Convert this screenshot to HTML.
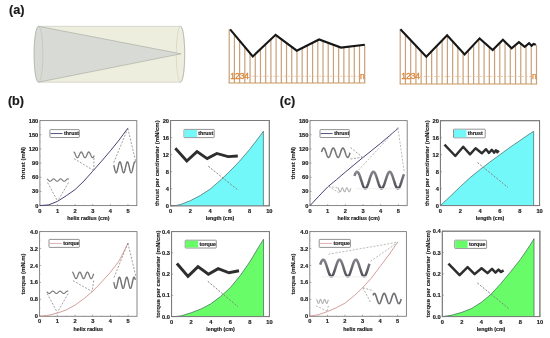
<!DOCTYPE html>
<html><head><meta charset="utf-8"><style>
html,body{margin:0;padding:0;background:#fff;}
svg{display:block;}
</style></head><body>
<svg width="550" height="338" viewBox="0 0 550 338" font-family="Liberation Sans, Arial, sans-serif">
<rect width="550" height="338" fill="#fff"/>
<text x="9.00" y="14.40" font-size="12.7" font-weight="bold" text-anchor="start" fill="#1a1a1a" stroke="#1a1a1a" stroke-width="0.18">(a)</text>
<path d="M38.5,26.3 L180.5,26.3 A4.2,27.950000000000003 0 0 1 180.5,82.2 L38.5,82.2 A4.4,27.950000000000003 0 0 1 38.5,26.3 Z" fill="#eeeedf" stroke="#c2c4b8" stroke-width="0.6"/>
<path d="M38.5,26.3 L181,53.8 L38.5,82.2 A4.4,27.950000000000003 0 0 1 38.5,26.3 Z" fill="#d8dbd5" stroke="#9da197" stroke-width="0.55"/>
<path d="M38.5,26.3 A4.4,27.950000000000003 0 0 1 38.5,82.2" fill="none" stroke="#b5b8b0" stroke-width="0.5"/>
<path d="M180.5,26.3 A4.2,27.950000000000003 0 0 0 180.5,82.2" fill="none" stroke="#c4c6b8" stroke-width="0.5"/>
<path d="M180.5,26.3 A4.2,27.950000000000003 0 0 1 180.5,82.2" fill="none" stroke="#a9ab9f" stroke-width="0.6"/>
<line x1="229.20" y1="29.30" x2="229.20" y2="83.00" stroke="#c8a07a" stroke-width="1.2"/>
<line x1="234.41" y1="34.45" x2="234.41" y2="83.00" stroke="#c8a07a" stroke-width="1.2"/>
<line x1="239.62" y1="40.67" x2="239.62" y2="83.00" stroke="#c8a07a" stroke-width="1.2"/>
<line x1="244.83" y1="46.89" x2="244.83" y2="83.00" stroke="#c8a07a" stroke-width="1.2"/>
<line x1="250.05" y1="53.11" x2="250.05" y2="83.00" stroke="#c8a07a" stroke-width="1.2"/>
<line x1="255.26" y1="54.07" x2="255.26" y2="83.00" stroke="#c8a07a" stroke-width="1.2"/>
<line x1="260.47" y1="49.13" x2="260.47" y2="83.00" stroke="#c8a07a" stroke-width="1.2"/>
<line x1="265.68" y1="44.20" x2="265.68" y2="83.00" stroke="#c8a07a" stroke-width="1.2"/>
<line x1="270.89" y1="39.26" x2="270.89" y2="83.00" stroke="#c8a07a" stroke-width="1.2"/>
<line x1="276.10" y1="35.18" x2="276.10" y2="83.00" stroke="#c8a07a" stroke-width="1.2"/>
<line x1="281.32" y1="39.09" x2="281.32" y2="83.00" stroke="#c8a07a" stroke-width="1.2"/>
<line x1="286.53" y1="43.00" x2="286.53" y2="83.00" stroke="#c8a07a" stroke-width="1.2"/>
<line x1="291.74" y1="46.90" x2="291.74" y2="83.00" stroke="#c8a07a" stroke-width="1.2"/>
<line x1="296.95" y1="50.62" x2="296.95" y2="83.00" stroke="#c8a07a" stroke-width="1.2"/>
<line x1="302.16" y1="48.01" x2="302.16" y2="83.00" stroke="#c8a07a" stroke-width="1.2"/>
<line x1="307.37" y1="45.39" x2="307.37" y2="83.00" stroke="#c8a07a" stroke-width="1.2"/>
<line x1="312.58" y1="42.77" x2="312.58" y2="83.00" stroke="#c8a07a" stroke-width="1.2"/>
<line x1="317.80" y1="40.15" x2="317.80" y2="83.00" stroke="#c8a07a" stroke-width="1.2"/>
<line x1="323.01" y1="40.95" x2="323.01" y2="83.00" stroke="#c8a07a" stroke-width="1.2"/>
<line x1="328.22" y1="42.87" x2="328.22" y2="83.00" stroke="#c8a07a" stroke-width="1.2"/>
<line x1="333.43" y1="44.80" x2="333.43" y2="83.00" stroke="#c8a07a" stroke-width="1.2"/>
<line x1="338.64" y1="46.73" x2="338.64" y2="83.00" stroke="#c8a07a" stroke-width="1.2"/>
<line x1="343.85" y1="47.26" x2="343.85" y2="83.00" stroke="#c8a07a" stroke-width="1.2"/>
<line x1="349.07" y1="46.65" x2="349.07" y2="83.00" stroke="#c8a07a" stroke-width="1.2"/>
<line x1="354.28" y1="46.04" x2="354.28" y2="83.00" stroke="#c8a07a" stroke-width="1.2"/>
<line x1="359.49" y1="45.42" x2="359.49" y2="83.00" stroke="#c8a07a" stroke-width="1.2"/>
<line x1="364.70" y1="44.81" x2="364.70" y2="83.00" stroke="#c8a07a" stroke-width="1.2"/>
<line x1="228.60" y1="83.00" x2="365.30" y2="83.00" stroke="#c9985f" stroke-width="1.2"/>
<line x1="249.20" y1="76.30" x2="359.90" y2="76.30" stroke="#e6b488" stroke-width="0.7" stroke-dasharray="2.2,1.3"/>
<text x="230.20" y="79.20" font-size="8.5" font-weight="normal" text-anchor="start" fill="#dc8434" stroke="#dc8434" stroke-width="0.3">1234</text>
<text x="360.10" y="78.80" font-size="8.3" font-weight="normal" text-anchor="start" fill="#dc8434" stroke="#dc8434" stroke-width="0.25">n</text>
<polyline points="230.10,29.30 252.80,56.40 275.60,34.80 296.80,50.70 319.10,39.50 341.00,47.60 364.80,44.80" fill="none" stroke="#161616" stroke-width="2.1" stroke-linejoin="miter"/>
<line x1="400.20" y1="29.30" x2="400.20" y2="84.00" stroke="#c8a07a" stroke-width="1.2"/>
<line x1="405.44" y1="34.63" x2="405.44" y2="84.00" stroke="#c8a07a" stroke-width="1.2"/>
<line x1="410.68" y1="40.18" x2="410.68" y2="84.00" stroke="#c8a07a" stroke-width="1.2"/>
<line x1="415.93" y1="45.73" x2="415.93" y2="84.00" stroke="#c8a07a" stroke-width="1.2"/>
<line x1="421.17" y1="51.27" x2="421.17" y2="84.00" stroke="#c8a07a" stroke-width="1.2"/>
<line x1="426.41" y1="56.59" x2="426.41" y2="84.00" stroke="#c8a07a" stroke-width="1.2"/>
<line x1="431.65" y1="51.19" x2="431.65" y2="84.00" stroke="#c8a07a" stroke-width="1.2"/>
<line x1="436.90" y1="45.80" x2="436.90" y2="84.00" stroke="#c8a07a" stroke-width="1.2"/>
<line x1="442.14" y1="40.40" x2="442.14" y2="84.00" stroke="#c8a07a" stroke-width="1.2"/>
<line x1="447.38" y1="35.61" x2="447.38" y2="84.00" stroke="#c8a07a" stroke-width="1.2"/>
<line x1="452.62" y1="41.36" x2="452.62" y2="84.00" stroke="#c8a07a" stroke-width="1.2"/>
<line x1="457.87" y1="47.11" x2="457.87" y2="84.00" stroke="#c8a07a" stroke-width="1.2"/>
<line x1="463.11" y1="52.86" x2="463.11" y2="84.00" stroke="#c8a07a" stroke-width="1.2"/>
<line x1="468.35" y1="50.48" x2="468.35" y2="84.00" stroke="#c8a07a" stroke-width="1.2"/>
<line x1="473.59" y1="44.85" x2="473.59" y2="84.00" stroke="#c8a07a" stroke-width="1.2"/>
<line x1="478.83" y1="39.22" x2="478.83" y2="84.00" stroke="#c8a07a" stroke-width="1.2"/>
<line x1="484.08" y1="42.36" x2="484.08" y2="84.00" stroke="#c8a07a" stroke-width="1.2"/>
<line x1="489.32" y1="47.01" x2="489.32" y2="84.00" stroke="#c8a07a" stroke-width="1.2"/>
<line x1="494.56" y1="48.14" x2="494.56" y2="84.00" stroke="#c8a07a" stroke-width="1.2"/>
<line x1="499.80" y1="42.90" x2="499.80" y2="84.00" stroke="#c8a07a" stroke-width="1.2"/>
<line x1="505.05" y1="41.90" x2="505.05" y2="84.00" stroke="#c8a07a" stroke-width="1.2"/>
<line x1="510.29" y1="47.02" x2="510.29" y2="84.00" stroke="#c8a07a" stroke-width="1.2"/>
<line x1="515.53" y1="45.02" x2="515.53" y2="84.00" stroke="#c8a07a" stroke-width="1.2"/>
<line x1="520.77" y1="43.69" x2="520.77" y2="84.00" stroke="#c8a07a" stroke-width="1.2"/>
<line x1="526.02" y1="45.72" x2="526.02" y2="84.00" stroke="#c8a07a" stroke-width="1.2"/>
<line x1="531.26" y1="45.36" x2="531.26" y2="84.00" stroke="#c8a07a" stroke-width="1.2"/>
<line x1="536.50" y1="44.80" x2="536.50" y2="84.00" stroke="#c8a07a" stroke-width="1.2"/>
<line x1="399.60" y1="84.00" x2="537.10" y2="84.00" stroke="#c9985f" stroke-width="1.2"/>
<line x1="420.20" y1="76.50" x2="531.70" y2="76.50" stroke="#e6b488" stroke-width="0.7" stroke-dasharray="2.2,1.3"/>
<text x="401.20" y="79.40" font-size="8.5" font-weight="normal" text-anchor="start" fill="#dc8434" stroke="#dc8434" stroke-width="0.3">1234</text>
<text x="531.90" y="79.00" font-size="8.3" font-weight="normal" text-anchor="start" fill="#dc8434" stroke="#dc8434" stroke-width="0.25">n</text>
<polyline points="400.40,29.30 426.30,56.70 447.10,35.30 464.60,54.50 479.60,38.40 492.70,50.00 502.90,39.80 511.60,48.30 518.90,42.20 524.70,46.80 529.10,43.20 531.60,45.70 533.50,43.90 535.80,44.80" fill="none" stroke="#161616" stroke-width="2.1" stroke-linejoin="miter"/>
<rect x="39.90" y="120.60" width="96.90" height="85.00" fill="none" stroke="#7a7a7a" stroke-width="0.9"/>
<line x1="39.90" y1="205.60" x2="39.90" y2="204.00" stroke="#7a7a7a" stroke-width="0.6"/>
<text x="39.90" y="212.60" font-size="5.7" font-weight="bold" text-anchor="middle" fill="#222" stroke="#222" stroke-width="0.18">0</text>
<line x1="57.52" y1="205.60" x2="57.52" y2="204.00" stroke="#7a7a7a" stroke-width="0.6"/>
<text x="57.52" y="212.60" font-size="5.7" font-weight="bold" text-anchor="middle" fill="#222" stroke="#222" stroke-width="0.18">1</text>
<line x1="75.14" y1="205.60" x2="75.14" y2="204.00" stroke="#7a7a7a" stroke-width="0.6"/>
<text x="75.14" y="212.60" font-size="5.7" font-weight="bold" text-anchor="middle" fill="#222" stroke="#222" stroke-width="0.18">2</text>
<line x1="92.75" y1="205.60" x2="92.75" y2="204.00" stroke="#7a7a7a" stroke-width="0.6"/>
<text x="92.75" y="212.60" font-size="5.7" font-weight="bold" text-anchor="middle" fill="#222" stroke="#222" stroke-width="0.18">3</text>
<line x1="110.37" y1="205.60" x2="110.37" y2="204.00" stroke="#7a7a7a" stroke-width="0.6"/>
<text x="110.37" y="212.60" font-size="5.7" font-weight="bold" text-anchor="middle" fill="#222" stroke="#222" stroke-width="0.18">4</text>
<line x1="127.99" y1="205.60" x2="127.99" y2="204.00" stroke="#7a7a7a" stroke-width="0.6"/>
<text x="127.99" y="212.60" font-size="5.7" font-weight="bold" text-anchor="middle" fill="#222" stroke="#222" stroke-width="0.18">5</text>
<line x1="48.71" y1="205.60" x2="48.71" y2="204.70" stroke="#999" stroke-width="0.5"/>
<line x1="66.33" y1="205.60" x2="66.33" y2="204.70" stroke="#999" stroke-width="0.5"/>
<line x1="83.95" y1="205.60" x2="83.95" y2="204.70" stroke="#999" stroke-width="0.5"/>
<line x1="101.56" y1="205.60" x2="101.56" y2="204.70" stroke="#999" stroke-width="0.5"/>
<line x1="119.18" y1="205.60" x2="119.18" y2="204.70" stroke="#999" stroke-width="0.5"/>
<line x1="39.90" y1="205.60" x2="41.50" y2="205.60" stroke="#7a7a7a" stroke-width="0.6"/>
<text x="38.30" y="207.65" font-size="5.7" font-weight="bold" text-anchor="end" fill="#222" stroke="#222" stroke-width="0.18">0</text>
<line x1="39.90" y1="191.43" x2="41.50" y2="191.43" stroke="#7a7a7a" stroke-width="0.6"/>
<text x="38.30" y="193.48" font-size="5.7" font-weight="bold" text-anchor="end" fill="#222" stroke="#222" stroke-width="0.18">30</text>
<line x1="39.90" y1="177.27" x2="41.50" y2="177.27" stroke="#7a7a7a" stroke-width="0.6"/>
<text x="38.30" y="179.32" font-size="5.7" font-weight="bold" text-anchor="end" fill="#222" stroke="#222" stroke-width="0.18">60</text>
<line x1="39.90" y1="163.10" x2="41.50" y2="163.10" stroke="#7a7a7a" stroke-width="0.6"/>
<text x="38.30" y="165.15" font-size="5.7" font-weight="bold" text-anchor="end" fill="#222" stroke="#222" stroke-width="0.18">90</text>
<line x1="39.90" y1="148.93" x2="41.50" y2="148.93" stroke="#7a7a7a" stroke-width="0.6"/>
<text x="38.30" y="150.98" font-size="5.7" font-weight="bold" text-anchor="end" fill="#222" stroke="#222" stroke-width="0.18">120</text>
<line x1="39.90" y1="134.77" x2="41.50" y2="134.77" stroke="#7a7a7a" stroke-width="0.6"/>
<text x="38.30" y="136.82" font-size="5.7" font-weight="bold" text-anchor="end" fill="#222" stroke="#222" stroke-width="0.18">150</text>
<line x1="39.90" y1="120.60" x2="41.50" y2="120.60" stroke="#7a7a7a" stroke-width="0.6"/>
<text x="38.30" y="122.65" font-size="5.7" font-weight="bold" text-anchor="end" fill="#222" stroke="#222" stroke-width="0.18">180</text>
<line x1="39.90" y1="198.52" x2="40.80" y2="198.52" stroke="#999" stroke-width="0.5"/>
<line x1="39.90" y1="184.35" x2="40.80" y2="184.35" stroke="#999" stroke-width="0.5"/>
<line x1="39.90" y1="170.18" x2="40.80" y2="170.18" stroke="#999" stroke-width="0.5"/>
<line x1="39.90" y1="156.02" x2="40.80" y2="156.02" stroke="#999" stroke-width="0.5"/>
<line x1="39.90" y1="141.85" x2="40.80" y2="141.85" stroke="#999" stroke-width="0.5"/>
<line x1="39.90" y1="127.68" x2="40.80" y2="127.68" stroke="#999" stroke-width="0.5"/>
<text x="88.35" y="220.20" font-size="5.3" font-weight="bold" text-anchor="middle" fill="#222" stroke="#222" stroke-width="0.18">helix radius (cm)</text>
<text x="0" y="0" font-size="6.0" font-weight="bold" text-anchor="middle" fill="#222" stroke="#222" stroke-width="0.12" transform="translate(25.20,163.10) rotate(-90)">thrust (mN)</text>
<polyline points="39.90,205.60 48.71,204.89 57.52,201.35 66.33,195.68 75.14,189.54 83.95,181.04 92.75,171.13 101.56,161.21 110.37,150.82 119.18,139.96 127.99,127.92" fill="none" stroke="#444478" stroke-width="1.0"/>
<rect x="49.9" y="129.6" width="29.4" height="7.900000000000006" fill="#fff" stroke="#777" stroke-width="0.8" rx="0.6"/>
<line x1="50.60" y1="133.55" x2="62.50" y2="133.55" stroke="#30306a" stroke-width="0.85"/>
<svg x="49.9" y="129.6" width="29.0" height="7.900000000000006" overflow="hidden"><text x="14.20" y="5.85" font-size="5.3" font-weight="bold" text-anchor="start" fill="#222" stroke="#222" stroke-width="0.18">thrust</text></svg>
<polyline points="46.90,178.95 47.01,178.99 47.12,179.04 47.23,179.10 47.34,179.17 47.45,179.25 47.56,179.34 47.67,179.43 47.78,179.53 47.89,179.64 47.99,179.75 48.10,179.86 48.21,179.98 48.32,180.09 48.43,180.21 48.54,180.33 48.65,180.44 48.76,180.55 48.87,180.66 48.98,180.76 49.09,180.85 49.20,180.94 49.31,181.02 49.42,181.09 49.53,181.15 49.64,181.20 49.75,181.24 49.86,181.27 49.97,181.29 50.08,181.30 50.18,181.30 50.29,181.28 50.40,181.25 50.51,181.22 50.62,181.17 50.73,181.11 50.84,181.04 50.95,180.97 51.06,180.88 51.17,180.79 51.28,180.69 51.39,180.59 51.50,180.48 51.61,180.37 51.72,180.25 51.83,180.14 51.94,180.02 52.05,179.90 52.16,179.79 52.27,179.68 52.38,179.57 52.48,179.47 52.59,179.37 52.70,179.28 52.81,179.20 52.92,179.13 53.03,179.06 53.14,179.01 53.25,178.97 53.36,178.93 53.47,178.91 53.58,178.90 53.69,178.90 53.80,178.91 53.91,178.94 54.02,178.97 54.13,179.02 54.24,179.07 54.35,179.14 54.46,179.21 54.56,179.29 54.67,179.38 54.78,179.48 54.89,179.58 55.00,179.69 55.11,179.80 55.22,179.92 55.33,180.03 55.44,180.15 55.55,180.27 55.66,180.38 55.77,180.49 55.88,180.60 55.99,180.71 56.10,180.80 56.21,180.89 56.32,180.98 56.43,181.05 56.54,181.12 56.65,181.18 56.75,181.22 56.86,181.26 56.97,181.28 57.08,181.30 57.19,181.30 57.30,181.29 57.41,181.27 57.52,181.24 57.63,181.20 57.74,181.14 57.85,181.08 57.96,181.01 58.07,180.93 58.18,180.84 58.29,180.74 58.40,180.64 58.51,180.54 58.62,180.43 58.73,180.31 58.84,180.20 58.95,180.08 59.05,179.96 59.16,179.85 59.27,179.73 59.38,179.63 59.49,179.52 59.60,179.42 59.71,179.33 59.82,179.24 59.93,179.16 60.04,179.10 60.15,179.04 60.26,178.99 60.37,178.95 60.48,178.92 60.59,178.91 60.70,178.90 60.81,178.91 60.92,178.92 61.03,178.95 61.13,178.99 61.24,179.04 61.35,179.10 61.46,179.17 61.57,179.25 61.68,179.34 61.79,179.43 61.90,179.53 62.01,179.64 62.12,179.75 62.23,179.86 62.34,179.97 62.45,180.09 62.56,180.21 62.67,180.32 62.78,180.44 62.89,180.55 63.00,180.65 63.11,180.75 63.22,180.85 63.32,180.94 63.43,181.02 63.54,181.09 63.65,181.15 63.76,181.20 63.87,181.24 63.98,181.27 64.09,181.29 64.20,181.30 64.31,181.30 64.42,181.28 64.53,181.26 64.64,181.22 64.75,181.17 64.86,181.11 64.97,181.05 65.08,180.97 65.19,180.89 65.30,180.79 65.41,180.70 65.52,180.59 65.62,180.48 65.73,180.37 65.84,180.26 65.95,180.14 66.06,180.02 66.17,179.91 66.28,179.79 66.39,179.68 66.50,179.57 66.61,179.47 66.72,179.38 66.83,179.29 66.94,179.20 67.05,179.13 67.16,179.07 67.27,179.01 67.38,178.97 67.49,178.93 67.60,178.91 67.70,178.90 67.81,178.90 67.92,178.91 68.03,178.94 68.14,178.97 68.25,179.02 68.36,179.07 68.47,179.13 68.58,179.21 68.69,179.29 68.80,179.38" fill="none" stroke="#7a7a7a" stroke-width="1.1"/>
<line x1="47.60" y1="182.60" x2="57.60" y2="201.20" stroke="#888" stroke-width="0.8" stroke-dasharray="2.0,1.5"/>
<line x1="68.50" y1="182.60" x2="57.60" y2="201.20" stroke="#888" stroke-width="0.8" stroke-dasharray="2.0,1.5"/>
<polyline points="73.60,152.00 73.70,152.01 73.81,152.04 73.91,152.09 74.01,152.16 74.11,152.25 74.22,152.36 74.32,152.49 74.42,152.64 74.53,152.80 74.63,152.97 74.73,153.16 74.84,153.36 74.94,153.57 75.04,153.80 75.14,154.02 75.25,154.26 75.35,154.50 75.45,154.74 75.56,154.98 75.66,155.22 75.76,155.46 75.87,155.70 75.97,155.93 76.07,156.15 76.17,156.36 76.28,156.56 76.38,156.75 76.48,156.92 76.59,157.08 76.69,157.22 76.79,157.35 76.90,157.46 77.00,157.54 77.10,157.61 77.20,157.66 77.31,157.69 77.41,157.70 77.51,157.69 77.62,157.65 77.72,157.60 77.82,157.53 77.93,157.44 78.03,157.32 78.13,157.20 78.23,157.05 78.34,156.89 78.44,156.71 78.54,156.52 78.65,156.32 78.75,156.10 78.85,155.88 78.96,155.65 79.06,155.42 79.16,155.18 79.27,154.94 79.37,154.69 79.47,154.45 79.57,154.21 79.68,153.98 79.78,153.75 79.88,153.53 79.99,153.32 80.09,153.12 80.19,152.94 80.30,152.76 80.40,152.61 80.50,152.46 80.60,152.34 80.71,152.23 80.81,152.15 80.91,152.08 81.02,152.03 81.12,152.01 81.22,152.00 81.33,152.01 81.43,152.05 81.53,152.11 81.63,152.18 81.74,152.27 81.84,152.39 81.94,152.52 82.05,152.67 82.15,152.83 82.25,153.01 82.35,153.20 82.46,153.40 82.56,153.62 82.66,153.84 82.77,154.07 82.87,154.31 82.97,154.55 83.08,154.79 83.18,155.03 83.28,155.27 83.38,155.51 83.49,155.74 83.59,155.97 83.69,156.19 83.80,156.40 83.90,156.60 84.00,156.78 84.11,156.95 84.21,157.11 84.31,157.25 84.41,157.37 84.52,157.47 84.62,157.56 84.72,157.62 84.83,157.67 84.93,157.69 85.03,157.70 85.14,157.68 85.24,157.65 85.34,157.59 85.44,157.51 85.55,157.41 85.65,157.30 85.75,157.17 85.86,157.02 85.96,156.85 86.06,156.67 86.17,156.48 86.27,156.28 86.37,156.06 86.47,155.84 86.58,155.61 86.68,155.37 86.78,155.13 86.89,154.89 86.99,154.64 87.09,154.40 87.20,154.17 87.30,153.93 87.40,153.71 87.50,153.49 87.61,153.28 87.71,153.08 87.81,152.90 87.92,152.73 88.02,152.58 88.12,152.44 88.23,152.32 88.33,152.22 88.43,152.13 88.53,152.07 88.64,152.03 88.74,152.00 88.84,152.00 88.95,152.02 89.05,152.06 89.15,152.12 89.26,152.20 89.36,152.30 89.46,152.41 89.56,152.55 89.67,152.70 89.77,152.86 89.87,153.05 89.98,153.24 90.08,153.45 90.18,153.66 90.29,153.89 90.39,154.12 90.49,154.35 90.59,154.60 90.70,154.84 90.80,155.08 90.90,155.32 91.01,155.56 91.11,155.79 91.21,156.02 91.32,156.23 91.42,156.44 91.52,156.63 91.62,156.82 91.73,156.99 91.83,157.14 91.93,157.27 92.04,157.39 92.14,157.49 92.24,157.57 92.35,157.64 92.45,157.68 92.55,157.70 92.66,157.70 92.76,157.68 92.86,157.64 92.96,157.57 93.07,157.49 93.17,157.39 93.27,157.27 93.38,157.14 93.48,156.99 93.58,156.82 93.69,156.64 93.79,156.44 93.89,156.23 93.99,156.02 94.10,155.79 94.20,155.56" fill="none" stroke="#7a7a7a" stroke-width="1.3"/>
<line x1="74.00" y1="158.60" x2="93.80" y2="170.60" stroke="#888" stroke-width="0.8" stroke-dasharray="2.0,1.5"/>
<line x1="94.00" y1="158.00" x2="93.80" y2="170.60" stroke="#888" stroke-width="0.8" stroke-dasharray="2.0,1.5"/>
<polyline points="113.80,165.17 113.91,165.64 114.02,166.11 114.13,166.60 114.23,167.09 114.34,167.59 114.45,168.08 114.56,168.57 114.67,169.04 114.78,169.50 114.88,169.95 114.99,170.37 115.10,170.76 115.21,171.13 115.32,171.47 115.43,171.77 115.54,172.03 115.64,172.26 115.75,172.44 115.86,172.59 115.97,172.68 116.08,172.74 116.19,172.75 116.30,172.71 116.40,172.63 116.51,172.51 116.62,172.34 116.73,172.13 116.84,171.89 116.95,171.60 117.05,171.28 117.16,170.93 117.27,170.54 117.38,170.13 117.49,169.70 117.60,169.24 117.71,168.77 117.81,168.29 117.92,167.80 118.03,167.31 118.14,166.81 118.25,166.32 118.36,165.84 118.47,165.37 118.57,164.92 118.68,164.48 118.79,164.07 118.90,163.69 119.01,163.33 119.12,163.01 119.22,162.72 119.33,162.47 119.44,162.26 119.55,162.10 119.66,161.97 119.77,161.89 119.88,161.85 119.98,161.86 120.09,161.91 120.20,162.01 120.31,162.15 120.42,162.34 120.53,162.56 120.64,162.82 120.74,163.12 120.85,163.46 120.96,163.82 121.07,164.22 121.18,164.64 121.29,165.08 121.39,165.54 121.50,166.02 121.61,166.50 121.72,166.99 121.83,167.49 121.94,167.98 122.05,168.47 122.15,168.95 122.26,169.41 122.37,169.86 122.48,170.28 122.59,170.69 122.70,171.06 122.81,171.40 122.91,171.71 123.02,171.98 123.13,172.22 123.24,172.41 123.35,172.56 123.46,172.67 123.56,172.73 123.67,172.75 123.78,172.72 123.89,172.65 124.00,172.54 124.11,172.38 124.22,172.18 124.32,171.94 124.43,171.66 124.54,171.35 124.65,171.00 124.76,170.62 124.87,170.22 124.98,169.79 125.08,169.34 125.19,168.87 125.30,168.39 125.41,167.90 125.52,167.41 125.63,166.91 125.73,166.42 125.84,165.94 125.95,165.47 126.06,165.01 126.17,164.57 126.28,164.15 126.39,163.76 126.49,163.40 126.60,163.07 126.71,162.78 126.82,162.52 126.93,162.30 127.04,162.13 127.15,161.99 127.25,161.90 127.36,161.86 127.47,161.86 127.58,161.90 127.69,161.99 127.80,162.12 127.91,162.29 128.01,162.51 128.12,162.77 128.23,163.06 128.34,163.39 128.45,163.75 128.56,164.14 128.66,164.55 128.77,164.99 128.88,165.45 128.99,165.92 129.10,166.40 129.21,166.89 129.32,167.39 129.42,167.88 129.53,168.37 129.64,168.85 129.75,169.32 129.86,169.77 129.97,170.20 130.07,170.61 130.18,170.98 130.29,171.33 130.40,171.65 130.51,171.93 130.62,172.17 130.73,172.37 130.83,172.53 130.94,172.65 131.05,172.72 131.16,172.75 131.27,172.73 131.38,172.67 131.49,172.57 131.59,172.42 131.70,172.22 131.81,171.99 131.92,171.72 132.03,171.41 132.14,171.07 132.25,170.70 132.35,170.30 132.46,169.88 132.57,169.43 132.68,168.97 132.79,168.49 132.90,168.00 133.00,167.51 133.11,167.02 133.22,166.52 133.33,166.04 133.44,165.56 133.55,165.10 133.66,164.66 133.76,164.24 133.87,163.84 133.98,163.47 134.09,163.14 134.20,162.83 134.31,162.57 134.41,162.34 134.52,162.16 134.63,162.02 134.74,161.92 134.85,161.86 134.96,161.85 135.07,161.89 135.17,161.97 135.28,162.09 135.39,162.26 135.50,162.46" fill="none" stroke="#727272" stroke-width="1.4"/>
<line x1="127.80" y1="128.40" x2="113.60" y2="163.00" stroke="#888" stroke-width="0.8" stroke-dasharray="2.0,1.5"/>
<line x1="127.80" y1="128.40" x2="135.80" y2="162.00" stroke="#888" stroke-width="0.8" stroke-dasharray="2.0,1.5"/>
<rect x="170.60" y="120.50" width="98.70" height="85.30" fill="none" stroke="#7a7a7a" stroke-width="0.9"/>
<line x1="170.60" y1="205.80" x2="170.60" y2="204.20" stroke="#7a7a7a" stroke-width="0.6"/>
<text x="170.60" y="212.80" font-size="5.7" font-weight="bold" text-anchor="middle" fill="#222" stroke="#222" stroke-width="0.18">0</text>
<line x1="190.34" y1="205.80" x2="190.34" y2="204.20" stroke="#7a7a7a" stroke-width="0.6"/>
<text x="190.34" y="212.80" font-size="5.7" font-weight="bold" text-anchor="middle" fill="#222" stroke="#222" stroke-width="0.18">2</text>
<line x1="210.08" y1="205.80" x2="210.08" y2="204.20" stroke="#7a7a7a" stroke-width="0.6"/>
<text x="210.08" y="212.80" font-size="5.7" font-weight="bold" text-anchor="middle" fill="#222" stroke="#222" stroke-width="0.18">4</text>
<line x1="229.82" y1="205.80" x2="229.82" y2="204.20" stroke="#7a7a7a" stroke-width="0.6"/>
<text x="229.82" y="212.80" font-size="5.7" font-weight="bold" text-anchor="middle" fill="#222" stroke="#222" stroke-width="0.18">6</text>
<line x1="249.56" y1="205.80" x2="249.56" y2="204.20" stroke="#7a7a7a" stroke-width="0.6"/>
<text x="249.56" y="212.80" font-size="5.7" font-weight="bold" text-anchor="middle" fill="#222" stroke="#222" stroke-width="0.18">8</text>
<line x1="269.30" y1="205.80" x2="269.30" y2="204.20" stroke="#7a7a7a" stroke-width="0.6"/>
<text x="269.30" y="212.80" font-size="5.7" font-weight="bold" text-anchor="middle" fill="#222" stroke="#222" stroke-width="0.18">10</text>
<line x1="180.47" y1="205.80" x2="180.47" y2="204.90" stroke="#999" stroke-width="0.5"/>
<line x1="200.21" y1="205.80" x2="200.21" y2="204.90" stroke="#999" stroke-width="0.5"/>
<line x1="219.95" y1="205.80" x2="219.95" y2="204.90" stroke="#999" stroke-width="0.5"/>
<line x1="239.69" y1="205.80" x2="239.69" y2="204.90" stroke="#999" stroke-width="0.5"/>
<line x1="259.43" y1="205.80" x2="259.43" y2="204.90" stroke="#999" stroke-width="0.5"/>
<line x1="170.60" y1="205.80" x2="172.20" y2="205.80" stroke="#7a7a7a" stroke-width="0.6"/>
<text x="169.00" y="207.85" font-size="5.7" font-weight="bold" text-anchor="end" fill="#222" stroke="#222" stroke-width="0.18">0</text>
<line x1="170.60" y1="188.74" x2="172.20" y2="188.74" stroke="#7a7a7a" stroke-width="0.6"/>
<text x="169.00" y="190.79" font-size="5.7" font-weight="bold" text-anchor="end" fill="#222" stroke="#222" stroke-width="0.18">4</text>
<line x1="170.60" y1="171.68" x2="172.20" y2="171.68" stroke="#7a7a7a" stroke-width="0.6"/>
<text x="169.00" y="173.73" font-size="5.7" font-weight="bold" text-anchor="end" fill="#222" stroke="#222" stroke-width="0.18">8</text>
<line x1="170.60" y1="154.62" x2="172.20" y2="154.62" stroke="#7a7a7a" stroke-width="0.6"/>
<text x="169.00" y="156.67" font-size="5.7" font-weight="bold" text-anchor="end" fill="#222" stroke="#222" stroke-width="0.18">12</text>
<line x1="170.60" y1="137.56" x2="172.20" y2="137.56" stroke="#7a7a7a" stroke-width="0.6"/>
<text x="169.00" y="139.61" font-size="5.7" font-weight="bold" text-anchor="end" fill="#222" stroke="#222" stroke-width="0.18">16</text>
<line x1="170.60" y1="120.50" x2="172.20" y2="120.50" stroke="#7a7a7a" stroke-width="0.6"/>
<text x="169.00" y="122.55" font-size="5.7" font-weight="bold" text-anchor="end" fill="#222" stroke="#222" stroke-width="0.18">20</text>
<text x="219.95" y="220.40" font-size="5.3" font-weight="bold" text-anchor="middle" fill="#222" stroke="#222" stroke-width="0.18">length (cm)</text>
<text x="0" y="0" font-size="6.0" font-weight="bold" text-anchor="middle" fill="#222" stroke="#222" stroke-width="0.12" transform="translate(158.70,163.15) rotate(-90)">thrust per centimeter (mN/cm)</text>
<path d="M170.60,205.80 L175.53,205.59 L180.47,204.52 L190.34,200.68 L200.21,195.56 L210.08,189.17 L219.95,180.64 L229.82,171.25 L239.69,161.02 L249.56,149.50 L259.43,136.71 L263.38,131.16 L263.38,205.80 Z" fill="#72f8f8" stroke="none"/>
<polyline points="170.60,205.80 175.53,205.59 180.47,204.52 190.34,200.68 200.21,195.56 210.08,189.17 219.95,180.64 229.82,171.25 239.69,161.02 249.56,149.50 259.43,136.71 263.38,131.16" fill="none" stroke="#2a4a4a" stroke-width="0.6"/>
<line x1="263.38" y1="131.16" x2="263.38" y2="205.80" stroke="#2a4a4a" stroke-width="0.6"/>
<rect x="184.0" y="129.4" width="30.19999999999999" height="8.199999999999989" fill="#fff" stroke="#777" stroke-width="0.8" rx="0.6"/>
<rect x="184.5" y="129.9" width="12.4" height="7.199999999999989" fill="#72f8f8"/>
<text x="198.20" y="135.40" font-size="5.3" font-weight="bold" text-anchor="start" fill="#222" stroke="#222" stroke-width="0.18">thrust</text>
<polyline points="175.30,148.20 186.80,161.00 197.00,151.60 207.20,158.60 216.80,153.50 228.00,156.60 237.80,156.00" fill="none" stroke="#2e2e2e" stroke-width="2.8" stroke-linejoin="miter"/>
<line x1="208.30" y1="166.30" x2="237.70" y2="189.80" stroke="#858585" stroke-width="1.0" stroke-dasharray="2.0,1.5"/>
<rect x="170.60" y="120.50" width="98.70" height="85.30" fill="none" stroke="#7a7a7a" stroke-width="0.9"/>
<rect x="39.60" y="231.60" width="97.40" height="84.70" fill="none" stroke="#7a7a7a" stroke-width="0.9"/>
<line x1="39.60" y1="316.30" x2="39.60" y2="314.70" stroke="#7a7a7a" stroke-width="0.6"/>
<text x="39.60" y="323.30" font-size="5.7" font-weight="bold" text-anchor="middle" fill="#222" stroke="#222" stroke-width="0.18">0</text>
<line x1="57.31" y1="316.30" x2="57.31" y2="314.70" stroke="#7a7a7a" stroke-width="0.6"/>
<text x="57.31" y="323.30" font-size="5.7" font-weight="bold" text-anchor="middle" fill="#222" stroke="#222" stroke-width="0.18">1</text>
<line x1="75.02" y1="316.30" x2="75.02" y2="314.70" stroke="#7a7a7a" stroke-width="0.6"/>
<text x="75.02" y="323.30" font-size="5.7" font-weight="bold" text-anchor="middle" fill="#222" stroke="#222" stroke-width="0.18">2</text>
<line x1="92.73" y1="316.30" x2="92.73" y2="314.70" stroke="#7a7a7a" stroke-width="0.6"/>
<text x="92.73" y="323.30" font-size="5.7" font-weight="bold" text-anchor="middle" fill="#222" stroke="#222" stroke-width="0.18">3</text>
<line x1="110.44" y1="316.30" x2="110.44" y2="314.70" stroke="#7a7a7a" stroke-width="0.6"/>
<text x="110.44" y="323.30" font-size="5.7" font-weight="bold" text-anchor="middle" fill="#222" stroke="#222" stroke-width="0.18">4</text>
<line x1="128.15" y1="316.30" x2="128.15" y2="314.70" stroke="#7a7a7a" stroke-width="0.6"/>
<text x="128.15" y="323.30" font-size="5.7" font-weight="bold" text-anchor="middle" fill="#222" stroke="#222" stroke-width="0.18">5</text>
<line x1="48.45" y1="316.30" x2="48.45" y2="315.40" stroke="#999" stroke-width="0.5"/>
<line x1="66.16" y1="316.30" x2="66.16" y2="315.40" stroke="#999" stroke-width="0.5"/>
<line x1="83.87" y1="316.30" x2="83.87" y2="315.40" stroke="#999" stroke-width="0.5"/>
<line x1="101.58" y1="316.30" x2="101.58" y2="315.40" stroke="#999" stroke-width="0.5"/>
<line x1="119.29" y1="316.30" x2="119.29" y2="315.40" stroke="#999" stroke-width="0.5"/>
<line x1="39.60" y1="316.30" x2="41.20" y2="316.30" stroke="#7a7a7a" stroke-width="0.6"/>
<text x="38.00" y="318.35" font-size="5.7" font-weight="bold" text-anchor="end" fill="#222" stroke="#222" stroke-width="0.18">0</text>
<line x1="39.60" y1="299.36" x2="41.20" y2="299.36" stroke="#7a7a7a" stroke-width="0.6"/>
<text x="38.00" y="301.41" font-size="5.7" font-weight="bold" text-anchor="end" fill="#222" stroke="#222" stroke-width="0.18">0.8</text>
<line x1="39.60" y1="282.42" x2="41.20" y2="282.42" stroke="#7a7a7a" stroke-width="0.6"/>
<text x="38.00" y="284.47" font-size="5.7" font-weight="bold" text-anchor="end" fill="#222" stroke="#222" stroke-width="0.18">1.6</text>
<line x1="39.60" y1="265.48" x2="41.20" y2="265.48" stroke="#7a7a7a" stroke-width="0.6"/>
<text x="38.00" y="267.53" font-size="5.7" font-weight="bold" text-anchor="end" fill="#222" stroke="#222" stroke-width="0.18">2.4</text>
<line x1="39.60" y1="248.54" x2="41.20" y2="248.54" stroke="#7a7a7a" stroke-width="0.6"/>
<text x="38.00" y="250.59" font-size="5.7" font-weight="bold" text-anchor="end" fill="#222" stroke="#222" stroke-width="0.18">3.2</text>
<line x1="39.60" y1="231.60" x2="41.20" y2="231.60" stroke="#7a7a7a" stroke-width="0.6"/>
<text x="38.00" y="233.65" font-size="5.7" font-weight="bold" text-anchor="end" fill="#222" stroke="#222" stroke-width="0.18">4.0</text>
<line x1="39.60" y1="307.83" x2="40.50" y2="307.83" stroke="#999" stroke-width="0.5"/>
<line x1="39.60" y1="290.89" x2="40.50" y2="290.89" stroke="#999" stroke-width="0.5"/>
<line x1="39.60" y1="273.95" x2="40.50" y2="273.95" stroke="#999" stroke-width="0.5"/>
<line x1="39.60" y1="257.01" x2="40.50" y2="257.01" stroke="#999" stroke-width="0.5"/>
<line x1="39.60" y1="240.07" x2="40.50" y2="240.07" stroke="#999" stroke-width="0.5"/>
<text x="88.30" y="330.90" font-size="5.3" font-weight="bold" text-anchor="middle" fill="#222" stroke="#222" stroke-width="0.18">helix radius</text>
<text x="0" y="0" font-size="6.0" font-weight="bold" text-anchor="middle" fill="#222" stroke="#222" stroke-width="0.12" transform="translate(25.10,273.95) rotate(-90)">torque (mN.m)</text>
<polyline points="39.60,316.30 48.45,315.24 57.31,313.12 66.16,309.95 75.02,305.08 83.87,298.72 92.73,291.21 101.58,282.00 110.44,272.26 119.29,260.61 128.15,243.03" fill="none" stroke="#c98682" stroke-width="0.8"/>
<rect x="49.0" y="239.4" width="30.30000000000001" height="8.0" fill="#fff" stroke="#777" stroke-width="0.8" rx="0.6"/>
<line x1="49.70" y1="243.40" x2="61.60" y2="243.40" stroke="#dca0a0" stroke-width="0.85"/>
<svg x="49.0" y="239.4" width="29.900000000000013" height="8.0" overflow="hidden"><text x="14.20" y="5.90" font-size="5.3" font-weight="bold" text-anchor="start" fill="#222" stroke="#222" stroke-width="0.18">torque</text></svg>
<polyline points="46.70,291.65 46.81,291.75 46.92,291.85 47.02,291.95 47.13,292.06 47.24,292.17 47.35,292.28 47.45,292.39 47.56,292.50 47.67,292.61 47.78,292.72 47.88,292.82 47.99,292.92 48.10,293.01 48.21,293.10 48.31,293.18 48.42,293.25 48.53,293.31 48.64,293.37 48.74,293.41 48.85,293.45 48.96,293.48 49.07,293.49 49.17,293.50 49.28,293.50 49.39,293.48 49.50,293.46 49.60,293.42 49.71,293.38 49.82,293.33 49.93,293.26 50.03,293.19 50.14,293.12 50.25,293.03 50.36,292.94 50.46,292.84 50.57,292.74 50.68,292.64 50.79,292.53 50.89,292.42 51.00,292.31 51.11,292.20 51.22,292.09 51.32,291.98 51.43,291.87 51.54,291.77 51.65,291.67 51.75,291.58 51.86,291.49 51.97,291.42 52.08,291.34 52.18,291.28 52.29,291.23 52.40,291.18 52.51,291.15 52.61,291.12 52.72,291.11 52.83,291.10 52.94,291.11 53.04,291.12 53.15,291.15 53.26,291.18 53.37,291.23 53.47,291.28 53.58,291.34 53.69,291.41 53.80,291.49 53.90,291.58 54.01,291.67 54.12,291.77 54.23,291.87 54.33,291.98 54.44,292.08 54.55,292.19 54.66,292.30 54.76,292.42 54.87,292.53 54.98,292.63 55.09,292.74 55.19,292.84 55.30,292.94 55.41,293.03 55.52,293.11 55.62,293.19 55.73,293.26 55.84,293.32 55.95,293.38 56.05,293.42 56.16,293.46 56.27,293.48 56.38,293.50 56.48,293.50 56.59,293.49 56.70,293.48 56.80,293.45 56.91,293.41 57.02,293.37 57.13,293.31 57.23,293.25 57.34,293.18 57.45,293.10 57.56,293.01 57.67,292.92 57.77,292.82 57.88,292.72 57.99,292.61 58.10,292.51 58.20,292.39 58.31,292.28 58.42,292.17 58.53,292.06 58.63,291.96 58.74,291.85 58.85,291.75 58.95,291.65 59.06,291.56 59.17,291.48 59.28,291.40 59.39,291.33 59.49,291.27 59.60,291.22 59.71,291.17 59.82,291.14 59.92,291.12 60.03,291.10 60.14,291.10 60.25,291.11 60.35,291.12 60.46,291.15 60.57,291.19 60.68,291.24 60.78,291.29 60.89,291.36 61.00,291.43 61.11,291.51 61.21,291.60 61.32,291.69 61.43,291.79 61.54,291.89 61.64,292.00 61.75,292.11 61.86,292.22 61.97,292.33 62.07,292.44 62.18,292.55 62.29,292.66 62.40,292.76 62.50,292.86 62.61,292.96 62.72,293.05 62.83,293.13 62.93,293.21 63.04,293.28 63.15,293.34 63.26,293.39 63.36,293.43 63.47,293.46 63.58,293.49 63.69,293.50 63.79,293.50 63.90,293.49 64.01,293.47 64.12,293.44 64.22,293.41 64.33,293.36 64.44,293.30 64.55,293.24 64.65,293.16 64.76,293.08 64.87,292.99 64.97,292.90 65.08,292.80 65.19,292.70 65.30,292.59 65.41,292.48 65.51,292.37 65.62,292.26 65.73,292.15 65.84,292.04 65.94,291.93 66.05,291.83 66.16,291.73 66.27,291.63 66.37,291.54 66.48,291.46 66.59,291.39 66.70,291.32 66.80,291.26 66.91,291.21 67.02,291.17 67.12,291.13 67.23,291.11 67.34,291.10 67.45,291.10 67.56,291.11 67.66,291.13 67.77,291.16 67.88,291.20 67.98,291.25 68.09,291.30 68.20,291.37" fill="none" stroke="#7a7a7a" stroke-width="1.1"/>
<line x1="47.20" y1="293.60" x2="57.30" y2="312.50" stroke="#888" stroke-width="0.8" stroke-dasharray="2.0,1.5"/>
<line x1="68.20" y1="293.60" x2="57.30" y2="312.50" stroke="#888" stroke-width="0.8" stroke-dasharray="2.0,1.5"/>
<polyline points="72.20,272.10 72.31,272.11 72.42,272.15 72.52,272.21 72.63,272.30 72.74,272.42 72.84,272.55 72.95,272.71 73.06,272.89 73.17,273.09 73.28,273.30 73.38,273.53 73.49,273.78 73.60,274.04 73.70,274.31 73.81,274.59 73.92,274.87 74.03,275.16 74.14,275.45 74.24,275.73 74.35,276.02 74.46,276.30 74.56,276.57 74.67,276.83 74.78,277.08 74.89,277.32 75.00,277.54 75.10,277.75 75.21,277.93 75.32,278.10 75.42,278.24 75.53,278.36 75.64,278.46 75.75,278.53 75.86,278.58 75.96,278.60 76.07,278.59 76.18,278.56 76.28,278.51 76.39,278.43 76.50,278.32 76.61,278.20 76.72,278.05 76.82,277.87 76.93,277.68 77.04,277.47 77.15,277.25 77.25,277.00 77.36,276.75 77.47,276.48 77.58,276.21 77.68,275.93 77.79,275.64 77.90,275.35 78.01,275.06 78.11,274.78 78.22,274.49 78.33,274.22 78.44,273.95 78.54,273.70 78.65,273.46 78.76,273.23 78.87,273.02 78.97,272.83 79.08,272.66 79.19,272.50 79.30,272.38 79.40,272.27 79.51,272.19 79.62,272.14 79.73,272.11 79.83,272.10 79.94,272.12 80.05,272.17 80.16,272.24 80.26,272.34 80.37,272.46 80.48,272.60 80.59,272.77 80.69,272.95 80.80,273.16 80.91,273.38 81.02,273.61 81.12,273.86 81.23,274.13 81.34,274.40 81.45,274.68 81.55,274.96 81.66,275.25 81.77,275.54 81.88,275.83 81.98,276.11 82.09,276.39 82.20,276.66 82.31,276.92 82.41,277.16 82.52,277.40 82.63,277.61 82.73,277.81 82.84,277.99 82.95,278.15 83.06,278.28 83.17,278.40 83.27,278.48 83.38,278.55 83.49,278.59 83.59,278.60 83.70,278.59 83.81,278.55 83.92,278.49 84.03,278.40 84.13,278.29 84.24,278.15 84.35,277.99 84.45,277.81 84.56,277.62 84.67,277.40 84.78,277.17 84.89,276.92 84.99,276.66 85.10,276.39 85.21,276.12 85.31,275.83 85.42,275.54 85.53,275.26 85.64,274.97 85.75,274.68 85.85,274.40 85.96,274.13 86.07,273.87 86.17,273.62 86.28,273.38 86.39,273.16 86.50,272.95 86.61,272.77 86.71,272.60 86.82,272.46 86.93,272.34 87.03,272.24 87.14,272.17 87.25,272.12 87.36,272.10 87.47,272.11 87.57,272.14 87.68,272.19 87.79,272.27 87.90,272.37 88.00,272.50 88.11,272.65 88.22,272.82 88.33,273.02 88.43,273.23 88.54,273.45 88.65,273.69 88.75,273.95 88.86,274.22 88.97,274.49 89.08,274.77 89.19,275.06 89.29,275.35 89.40,275.64 89.51,275.92 89.62,276.20 89.72,276.48 89.83,276.74 89.94,277.00 90.05,277.24 90.15,277.47 90.26,277.68 90.37,277.87 90.47,278.04 90.58,278.19 90.69,278.32 90.80,278.43 90.91,278.51 91.01,278.56 91.12,278.59 91.23,278.60 91.34,278.58 91.44,278.53 91.55,278.46 91.66,278.36 91.77,278.24 91.87,278.10 91.98,277.94 92.09,277.75 92.20,277.55 92.30,277.32 92.41,277.09 92.52,276.84 92.62,276.57 92.73,276.30 92.84,276.02 92.95,275.74 93.06,275.45 93.16,275.16 93.27,274.87 93.38,274.59 93.48,274.31 93.59,274.04 93.70,273.78" fill="none" stroke="#7a7a7a" stroke-width="1.3"/>
<line x1="73.00" y1="280.60" x2="92.20" y2="291.50" stroke="#888" stroke-width="0.8" stroke-dasharray="2.0,1.5"/>
<line x1="93.70" y1="280.60" x2="92.20" y2="291.50" stroke="#888" stroke-width="0.8" stroke-dasharray="2.0,1.5"/>
<polyline points="113.80,282.13 113.91,282.64 114.02,283.15 114.12,283.67 114.23,284.17 114.34,284.66 114.44,285.14 114.55,285.60 114.66,286.03 114.77,286.44 114.88,286.82 114.98,287.16 115.09,287.46 115.20,287.73 115.30,287.95 115.41,288.13 115.52,288.27 115.63,288.36 115.73,288.40 115.84,288.39 115.95,288.34 116.06,288.24 116.16,288.09 116.27,287.90 116.38,287.67 116.49,287.39 116.59,287.08 116.70,286.73 116.81,286.34 116.92,285.93 117.03,285.49 117.13,285.03 117.24,284.54 117.35,284.05 117.45,283.54 117.56,283.03 117.67,282.51 117.78,282.00 117.89,281.49 117.99,281.00 118.10,280.52 118.21,280.06 118.31,279.62 118.42,279.21 118.53,278.83 118.64,278.48 118.75,278.17 118.85,277.90 118.96,277.68 119.07,277.49 119.17,277.35 119.28,277.25 119.39,277.21 119.50,277.21 119.61,277.25 119.71,277.35 119.82,277.49 119.93,277.67 120.03,277.90 120.14,278.17 120.25,278.48 120.36,278.83 120.47,279.21 120.57,279.62 120.68,280.05 120.79,280.51 120.89,280.99 121.00,281.49 121.11,281.99 121.22,282.51 121.33,283.02 121.43,283.53 121.54,284.04 121.65,284.54 121.75,285.02 121.86,285.48 121.97,285.92 122.08,286.34 122.19,286.72 122.29,287.07 122.40,287.39 122.51,287.66 122.62,287.90 122.72,288.09 122.83,288.24 122.94,288.34 123.05,288.39 123.15,288.40 123.26,288.36 123.37,288.27 123.48,288.13 123.58,287.95 123.69,287.73 123.80,287.47 123.91,287.16 124.01,286.82 124.12,286.45 124.23,286.04 124.34,285.61 124.44,285.15 124.55,284.67 124.66,284.18 124.77,283.67 124.87,283.16 124.98,282.65 125.09,282.13 125.20,281.62 125.30,281.13 125.41,280.64 125.52,280.18 125.62,279.73 125.73,279.31 125.84,278.93 125.95,278.57 126.06,278.25 126.16,277.97 126.27,277.73 126.38,277.53 126.48,277.38 126.59,277.27 126.70,277.21 126.81,277.20 126.92,277.24 127.02,277.32 127.13,277.45 127.24,277.62 127.34,277.84 127.45,278.10 127.56,278.40 127.67,278.73 127.78,279.10 127.88,279.51 127.99,279.94 128.10,280.39 128.21,280.87 128.31,281.36 128.42,281.86 128.53,282.37 128.63,282.89 128.74,283.40 128.85,283.91 128.96,284.41 129.06,284.90 129.17,285.37 129.28,285.81 129.39,286.23 129.50,286.63 129.60,286.98 129.71,287.31 129.82,287.60 129.93,287.84 130.03,288.04 130.14,288.20 130.25,288.31 130.36,288.38 130.46,288.40 130.57,288.37 130.68,288.30 130.79,288.17 130.89,288.01 131.00,287.79 131.11,287.54 131.22,287.24 131.32,286.91 131.43,286.55 131.54,286.15 131.65,285.72 131.75,285.27 131.86,284.80 131.97,284.31 132.08,283.81 132.18,283.29 132.29,282.78 132.40,282.27 132.50,281.75 132.61,281.25 132.72,280.77 132.83,280.29 132.94,279.84 133.04,279.42 133.15,279.02 133.26,278.66 133.37,278.33 133.47,278.04 133.58,277.79 133.69,277.58 133.80,277.42 133.90,277.30 134.01,277.22 134.12,277.20 134.23,277.22 134.33,277.29 134.44,277.41 134.55,277.57 134.66,277.78 134.76,278.03 134.87,278.31 134.98,278.64 135.09,279.00 135.19,279.40 135.30,279.82" fill="none" stroke="#727272" stroke-width="1.4"/>
<line x1="127.90" y1="243.20" x2="113.80" y2="278.00" stroke="#888" stroke-width="0.8" stroke-dasharray="2.0,1.5"/>
<line x1="127.90" y1="243.20" x2="136.00" y2="277.00" stroke="#888" stroke-width="0.8" stroke-dasharray="2.0,1.5"/>
<rect x="171.60" y="231.60" width="97.80" height="85.00" fill="none" stroke="#7a7a7a" stroke-width="0.9"/>
<line x1="171.60" y1="316.60" x2="171.60" y2="315.00" stroke="#7a7a7a" stroke-width="0.6"/>
<text x="171.60" y="323.60" font-size="5.7" font-weight="bold" text-anchor="middle" fill="#222" stroke="#222" stroke-width="0.18">0</text>
<line x1="191.16" y1="316.60" x2="191.16" y2="315.00" stroke="#7a7a7a" stroke-width="0.6"/>
<text x="191.16" y="323.60" font-size="5.7" font-weight="bold" text-anchor="middle" fill="#222" stroke="#222" stroke-width="0.18">2</text>
<line x1="210.72" y1="316.60" x2="210.72" y2="315.00" stroke="#7a7a7a" stroke-width="0.6"/>
<text x="210.72" y="323.60" font-size="5.7" font-weight="bold" text-anchor="middle" fill="#222" stroke="#222" stroke-width="0.18">4</text>
<line x1="230.28" y1="316.60" x2="230.28" y2="315.00" stroke="#7a7a7a" stroke-width="0.6"/>
<text x="230.28" y="323.60" font-size="5.7" font-weight="bold" text-anchor="middle" fill="#222" stroke="#222" stroke-width="0.18">6</text>
<line x1="249.84" y1="316.60" x2="249.84" y2="315.00" stroke="#7a7a7a" stroke-width="0.6"/>
<text x="249.84" y="323.60" font-size="5.7" font-weight="bold" text-anchor="middle" fill="#222" stroke="#222" stroke-width="0.18">8</text>
<line x1="269.40" y1="316.60" x2="269.40" y2="315.00" stroke="#7a7a7a" stroke-width="0.6"/>
<text x="269.40" y="323.60" font-size="5.7" font-weight="bold" text-anchor="middle" fill="#222" stroke="#222" stroke-width="0.18">10</text>
<line x1="181.38" y1="316.60" x2="181.38" y2="315.70" stroke="#999" stroke-width="0.5"/>
<line x1="200.94" y1="316.60" x2="200.94" y2="315.70" stroke="#999" stroke-width="0.5"/>
<line x1="220.50" y1="316.60" x2="220.50" y2="315.70" stroke="#999" stroke-width="0.5"/>
<line x1="240.06" y1="316.60" x2="240.06" y2="315.70" stroke="#999" stroke-width="0.5"/>
<line x1="259.62" y1="316.60" x2="259.62" y2="315.70" stroke="#999" stroke-width="0.5"/>
<line x1="171.60" y1="316.60" x2="173.20" y2="316.60" stroke="#7a7a7a" stroke-width="0.6"/>
<text x="170.00" y="318.65" font-size="5.7" font-weight="bold" text-anchor="end" fill="#222" stroke="#222" stroke-width="0.18">0.0</text>
<line x1="171.60" y1="295.35" x2="173.20" y2="295.35" stroke="#7a7a7a" stroke-width="0.6"/>
<text x="170.00" y="297.40" font-size="5.7" font-weight="bold" text-anchor="end" fill="#222" stroke="#222" stroke-width="0.18">0.1</text>
<line x1="171.60" y1="274.10" x2="173.20" y2="274.10" stroke="#7a7a7a" stroke-width="0.6"/>
<text x="170.00" y="276.15" font-size="5.7" font-weight="bold" text-anchor="end" fill="#222" stroke="#222" stroke-width="0.18">0.2</text>
<line x1="171.60" y1="252.85" x2="173.20" y2="252.85" stroke="#7a7a7a" stroke-width="0.6"/>
<text x="170.00" y="254.90" font-size="5.7" font-weight="bold" text-anchor="end" fill="#222" stroke="#222" stroke-width="0.18">0.3</text>
<line x1="171.60" y1="231.60" x2="173.20" y2="231.60" stroke="#7a7a7a" stroke-width="0.6"/>
<text x="170.00" y="233.65" font-size="5.7" font-weight="bold" text-anchor="end" fill="#222" stroke="#222" stroke-width="0.18">0.4</text>
<text x="220.50" y="331.20" font-size="5.3" font-weight="bold" text-anchor="middle" fill="#222" stroke="#222" stroke-width="0.18">length (cm)</text>
<text x="0" y="0" font-size="6.0" font-weight="bold" text-anchor="middle" fill="#222" stroke="#222" stroke-width="0.12" transform="translate(159.70,274.10) rotate(-90)">torque per centimeter (mN/cm)</text>
<path d="M171.60,316.60 L176.49,316.39 L181.38,315.75 L191.16,312.78 L200.94,308.95 L206.81,305.98 L210.72,303.85 L220.50,296.62 L230.28,287.70 L240.06,275.80 L249.84,261.77 L259.62,245.41 L263.53,239.25 L263.53,316.60 Z" fill="#68fc68" stroke="none"/>
<polyline points="171.60,316.60 176.49,316.39 181.38,315.75 191.16,312.78 200.94,308.95 206.81,305.98 210.72,303.85 220.50,296.62 230.28,287.70 240.06,275.80 249.84,261.77 259.62,245.41 263.53,239.25" fill="none" stroke="#2a4a4a" stroke-width="0.6"/>
<line x1="263.53" y1="239.25" x2="263.53" y2="316.60" stroke="#2a4a4a" stroke-width="0.6"/>
<rect x="185.2" y="240.2" width="31.100000000000023" height="7.800000000000011" fill="#fff" stroke="#777" stroke-width="0.8" rx="0.6"/>
<rect x="185.7" y="240.7" width="12.4" height="6.800000000000011" fill="#68fc68"/>
<text x="199.40" y="246.00" font-size="5.3" font-weight="bold" text-anchor="start" fill="#222" stroke="#222" stroke-width="0.18">torque</text>
<polyline points="176.90,263.50 188.00,276.40 198.00,266.60 208.40,274.30 218.20,268.70 229.00,272.80 239.00,270.80" fill="none" stroke="#2e2e2e" stroke-width="3.0" stroke-linejoin="miter"/>
<line x1="207.80" y1="281.30" x2="238.00" y2="306.80" stroke="#858585" stroke-width="1.0" stroke-dasharray="2.0,1.5"/>
<rect x="171.60" y="231.60" width="97.80" height="85.00" fill="none" stroke="#7a7a7a" stroke-width="0.9"/>
<text x="279.80" y="105.20" font-size="12.6" font-weight="bold" text-anchor="start" fill="#1a1a1a" stroke="#1a1a1a" stroke-width="0.18">(c)</text>
<text x="7.90" y="105.20" font-size="12.6" font-weight="bold" text-anchor="start" fill="#1a1a1a" stroke="#1a1a1a" stroke-width="0.18">(b)</text>
<rect x="310.00" y="120.60" width="97.20" height="85.00" fill="none" stroke="#7a7a7a" stroke-width="0.9"/>
<line x1="310.00" y1="205.60" x2="310.00" y2="204.00" stroke="#7a7a7a" stroke-width="0.6"/>
<text x="310.00" y="212.60" font-size="5.7" font-weight="bold" text-anchor="middle" fill="#222" stroke="#222" stroke-width="0.18">0</text>
<line x1="327.67" y1="205.60" x2="327.67" y2="204.00" stroke="#7a7a7a" stroke-width="0.6"/>
<text x="327.67" y="212.60" font-size="5.7" font-weight="bold" text-anchor="middle" fill="#222" stroke="#222" stroke-width="0.18">1</text>
<line x1="345.35" y1="205.60" x2="345.35" y2="204.00" stroke="#7a7a7a" stroke-width="0.6"/>
<text x="345.35" y="212.60" font-size="5.7" font-weight="bold" text-anchor="middle" fill="#222" stroke="#222" stroke-width="0.18">2</text>
<line x1="363.02" y1="205.60" x2="363.02" y2="204.00" stroke="#7a7a7a" stroke-width="0.6"/>
<text x="363.02" y="212.60" font-size="5.7" font-weight="bold" text-anchor="middle" fill="#222" stroke="#222" stroke-width="0.18">3</text>
<line x1="380.69" y1="205.60" x2="380.69" y2="204.00" stroke="#7a7a7a" stroke-width="0.6"/>
<text x="380.69" y="212.60" font-size="5.7" font-weight="bold" text-anchor="middle" fill="#222" stroke="#222" stroke-width="0.18">4</text>
<line x1="398.36" y1="205.60" x2="398.36" y2="204.00" stroke="#7a7a7a" stroke-width="0.6"/>
<text x="398.36" y="212.60" font-size="5.7" font-weight="bold" text-anchor="middle" fill="#222" stroke="#222" stroke-width="0.18">5</text>
<line x1="318.84" y1="205.60" x2="318.84" y2="204.70" stroke="#999" stroke-width="0.5"/>
<line x1="336.51" y1="205.60" x2="336.51" y2="204.70" stroke="#999" stroke-width="0.5"/>
<line x1="354.18" y1="205.60" x2="354.18" y2="204.70" stroke="#999" stroke-width="0.5"/>
<line x1="371.85" y1="205.60" x2="371.85" y2="204.70" stroke="#999" stroke-width="0.5"/>
<line x1="389.53" y1="205.60" x2="389.53" y2="204.70" stroke="#999" stroke-width="0.5"/>
<line x1="310.00" y1="205.60" x2="311.60" y2="205.60" stroke="#7a7a7a" stroke-width="0.6"/>
<text x="308.40" y="207.65" font-size="5.7" font-weight="bold" text-anchor="end" fill="#222" stroke="#222" stroke-width="0.18">0</text>
<line x1="310.00" y1="191.43" x2="311.60" y2="191.43" stroke="#7a7a7a" stroke-width="0.6"/>
<text x="308.40" y="193.48" font-size="5.7" font-weight="bold" text-anchor="end" fill="#222" stroke="#222" stroke-width="0.18">30</text>
<line x1="310.00" y1="177.27" x2="311.60" y2="177.27" stroke="#7a7a7a" stroke-width="0.6"/>
<text x="308.40" y="179.32" font-size="5.7" font-weight="bold" text-anchor="end" fill="#222" stroke="#222" stroke-width="0.18">60</text>
<line x1="310.00" y1="163.10" x2="311.60" y2="163.10" stroke="#7a7a7a" stroke-width="0.6"/>
<text x="308.40" y="165.15" font-size="5.7" font-weight="bold" text-anchor="end" fill="#222" stroke="#222" stroke-width="0.18">90</text>
<line x1="310.00" y1="148.93" x2="311.60" y2="148.93" stroke="#7a7a7a" stroke-width="0.6"/>
<text x="308.40" y="150.98" font-size="5.7" font-weight="bold" text-anchor="end" fill="#222" stroke="#222" stroke-width="0.18">120</text>
<line x1="310.00" y1="134.77" x2="311.60" y2="134.77" stroke="#7a7a7a" stroke-width="0.6"/>
<text x="308.40" y="136.82" font-size="5.7" font-weight="bold" text-anchor="end" fill="#222" stroke="#222" stroke-width="0.18">150</text>
<line x1="310.00" y1="120.60" x2="311.60" y2="120.60" stroke="#7a7a7a" stroke-width="0.6"/>
<text x="308.40" y="122.65" font-size="5.7" font-weight="bold" text-anchor="end" fill="#222" stroke="#222" stroke-width="0.18">180</text>
<line x1="310.00" y1="198.52" x2="310.90" y2="198.52" stroke="#999" stroke-width="0.5"/>
<line x1="310.00" y1="184.35" x2="310.90" y2="184.35" stroke="#999" stroke-width="0.5"/>
<line x1="310.00" y1="170.18" x2="310.90" y2="170.18" stroke="#999" stroke-width="0.5"/>
<line x1="310.00" y1="156.02" x2="310.90" y2="156.02" stroke="#999" stroke-width="0.5"/>
<line x1="310.00" y1="141.85" x2="310.90" y2="141.85" stroke="#999" stroke-width="0.5"/>
<line x1="310.00" y1="127.68" x2="310.90" y2="127.68" stroke="#999" stroke-width="0.5"/>
<text x="358.60" y="220.20" font-size="5.3" font-weight="bold" text-anchor="middle" fill="#222" stroke="#222" stroke-width="0.18">helix radius (cm)</text>
<text x="0" y="0" font-size="6.0" font-weight="bold" text-anchor="middle" fill="#222" stroke="#222" stroke-width="0.12" transform="translate(295.30,163.10) rotate(-90)">thrust (mN)</text>
<polyline points="310.00,205.60 318.84,196.16 327.67,186.95 336.51,179.63 345.35,172.07 354.18,164.75 363.02,157.43 371.85,150.35 380.69,143.27 389.53,135.71 398.36,128.16" fill="none" stroke="#444478" stroke-width="1.0"/>
<rect x="320.0" y="129.6" width="29.399999999999977" height="7.900000000000006" fill="#fff" stroke="#777" stroke-width="0.8" rx="0.6"/>
<line x1="320.70" y1="133.55" x2="332.60" y2="133.55" stroke="#30306a" stroke-width="0.85"/>
<svg x="320.0" y="129.6" width="28.99999999999998" height="7.900000000000006" overflow="hidden"><text x="14.20" y="5.85" font-size="5.3" font-weight="bold" text-anchor="start" fill="#222" stroke="#222" stroke-width="0.18">thrust</text></svg>
<polyline points="321.50,152.09 321.64,151.65 321.79,151.23 321.93,150.82 322.07,150.42 322.21,150.05 322.36,149.70 322.50,149.37 322.64,149.08 322.79,148.81 322.93,148.58 323.07,148.39 323.22,148.23 323.36,148.12 323.50,148.04 323.64,148.00 323.79,148.01 323.93,148.05 324.07,148.14 324.22,148.27 324.36,148.43 324.50,148.64 324.65,148.87 324.79,149.15 324.93,149.45 325.07,149.78 325.22,150.14 325.36,150.52 325.50,150.92 325.65,151.33 325.79,151.76 325.93,152.19 326.08,152.63 326.22,153.07 326.36,153.51 326.50,153.93 326.65,154.35 326.79,154.76 326.93,155.14 327.08,155.51 327.22,155.85 327.36,156.16 327.51,156.44 327.65,156.69 327.79,156.91 327.94,157.08 328.08,157.22 328.22,157.32 328.36,157.38 328.51,157.40 328.65,157.38 328.79,157.31 328.94,157.21 329.08,157.06 329.22,156.88 329.37,156.66 329.51,156.41 329.65,156.12 329.79,155.81 329.94,155.46 330.08,155.10 330.22,154.71 330.37,154.30 330.51,153.88 330.65,153.45 330.80,153.02 330.94,152.58 331.08,152.14 331.22,151.70 331.37,151.28 331.51,150.87 331.65,150.47 331.80,150.09 331.94,149.74 332.08,149.41 332.23,149.11 332.37,148.84 332.51,148.61 332.65,148.41 332.80,148.25 332.94,148.13 333.08,148.05 333.23,148.01 333.37,148.01 333.51,148.05 333.66,148.13 333.80,148.25 333.94,148.41 334.08,148.61 334.23,148.84 334.37,149.11 334.51,149.41 334.66,149.74 334.80,150.10 334.94,150.47 335.09,150.87 335.23,151.28 335.37,151.71 335.51,152.14 335.66,152.58 335.80,153.02 335.94,153.46 336.09,153.89 336.23,154.31 336.37,154.71 336.51,155.10 336.66,155.47 336.80,155.81 336.94,156.13 337.09,156.41 337.23,156.67 337.37,156.88 337.52,157.07 337.66,157.21 337.80,157.31 337.94,157.38 338.09,157.40 338.23,157.38 338.37,157.32 338.52,157.22 338.66,157.08 338.80,156.90 338.95,156.69 339.09,156.44 339.23,156.16 339.38,155.85 339.52,155.51 339.66,155.14 339.80,154.75 339.95,154.35 340.09,153.93 340.23,153.50 340.38,153.07 340.52,152.63 340.66,152.19 340.81,151.75 340.95,151.33 341.09,150.91 341.23,150.51 341.38,150.13 341.52,149.78 341.66,149.45 341.81,149.14 341.95,148.87 342.09,148.63 342.24,148.43 342.38,148.27 342.52,148.14 342.66,148.05 342.81,148.01 342.95,148.00 343.09,148.04 343.24,148.12 343.38,148.23 343.52,148.39 343.67,148.59 343.81,148.82 343.95,149.08 344.09,149.38 344.24,149.70 344.38,150.05 344.52,150.43 344.67,150.82 344.81,151.23 344.95,151.66 345.10,152.09 345.24,152.53 345.38,152.97 345.52,153.41 345.67,153.84 345.81,154.26 345.95,154.67 346.10,155.06 346.24,155.43 346.38,155.77 346.53,156.09 346.67,156.38 346.81,156.64 346.95,156.86 347.10,157.05 347.24,157.19 347.38,157.30 347.53,157.37 347.67,157.40 347.81,157.39 347.96,157.33 348.10,157.24 348.24,157.10 348.38,156.93 348.53,156.72 348.67,156.47 348.81,156.19 348.96,155.88 349.10,155.55 349.24,155.18 349.39,154.80 349.53,154.40 349.67,153.98 349.81,153.55 349.96,153.12 350.10,152.68" fill="none" stroke="#777" stroke-width="1.6"/>
<line x1="350.50" y1="147.50" x2="362.40" y2="157.20" stroke="#888" stroke-width="0.8" stroke-dasharray="2.0,1.5"/>
<line x1="350.50" y1="159.00" x2="362.40" y2="157.20" stroke="#888" stroke-width="0.8" stroke-dasharray="2.0,1.5"/>
<polyline points="337.80,187.80 337.87,187.81 337.93,187.83 338.00,187.87 338.06,187.93 338.13,188.00 338.20,188.09 338.26,188.19 338.33,188.31 338.39,188.44 338.46,188.57 338.53,188.72 338.59,188.88 338.66,189.05 338.72,189.22 338.79,189.39 338.86,189.57 338.92,189.76 338.99,189.94 339.05,190.12 339.12,190.30 339.19,190.47 339.25,190.64 339.32,190.80 339.38,190.96 339.45,191.10 339.52,191.23 339.58,191.35 339.65,191.46 339.71,191.56 339.78,191.64 339.85,191.70 339.91,191.75 339.98,191.78 340.04,191.80 340.11,191.80 340.18,191.78 340.24,191.75 340.31,191.70 340.37,191.63 340.44,191.55 340.51,191.46 340.57,191.35 340.64,191.23 340.70,191.09 340.77,190.95 340.84,190.80 340.90,190.63 340.97,190.47 341.03,190.29 341.10,190.11 341.17,189.93 341.23,189.75 341.30,189.57 341.36,189.39 341.43,189.21 341.50,189.04 341.56,188.88 341.63,188.72 341.69,188.57 341.76,188.43 341.83,188.30 341.89,188.19 341.96,188.09 342.02,188.00 342.09,187.93 342.16,187.87 342.22,187.83 342.29,187.81 342.35,187.80 342.42,187.81 342.49,187.83 342.55,187.88 342.62,187.93 342.68,188.01 342.75,188.09 342.82,188.20 342.88,188.31 342.95,188.44 343.01,188.58 343.08,188.73 343.15,188.89 343.21,189.05 343.28,189.22 343.34,189.40 343.41,189.58 343.48,189.76 343.54,189.94 343.61,190.13 343.67,190.30 343.74,190.48 343.81,190.65 343.87,190.81 343.94,190.96 344.00,191.10 344.07,191.24 344.14,191.36 344.20,191.46 344.27,191.56 344.33,191.64 344.40,191.70 344.47,191.75 344.53,191.78 344.60,191.80 344.66,191.80 344.73,191.78 344.80,191.75 344.86,191.70 344.93,191.63 344.99,191.55 345.06,191.45 345.13,191.35 345.19,191.22 345.26,191.09 345.32,190.94 345.39,190.79 345.46,190.63 345.52,190.46 345.59,190.29 345.65,190.11 345.72,189.93 345.79,189.74 345.85,189.56 345.92,189.38 345.98,189.21 346.05,189.03 346.12,188.87 346.18,188.71 346.25,188.56 346.31,188.43 346.38,188.30 346.45,188.19 346.51,188.08 346.58,188.00 346.64,187.93 346.71,187.87 346.78,187.83 346.84,187.81 346.91,187.80 346.97,187.81 347.04,187.84 347.11,187.88 347.17,187.94 347.24,188.01 347.30,188.10 347.37,188.20 347.44,188.32 347.50,188.44 347.57,188.58 347.63,188.73 347.70,188.89 347.77,189.06 347.83,189.23 347.90,189.41 347.96,189.59 348.03,189.77 348.10,189.95 348.16,190.13 348.23,190.31 348.29,190.48 348.36,190.65 348.43,190.81 348.49,190.97 348.56,191.11 348.62,191.24 348.69,191.36 348.76,191.47 348.82,191.56 348.89,191.64 348.95,191.70 349.02,191.75 349.09,191.78 349.15,191.80 349.22,191.80 349.28,191.78 349.35,191.74 349.42,191.69 349.48,191.63 349.55,191.55 349.61,191.45 349.68,191.34 349.75,191.22 349.81,191.08 349.88,190.94 349.94,190.79 350.01,190.62 350.08,190.45 350.14,190.28 350.21,190.10 350.27,189.92 350.34,189.74 350.41,189.56 350.47,189.38 350.54,189.20 350.60,189.03 350.67,188.86 350.74,188.71 350.80,188.56 350.87,188.42 350.93,188.30 351.00,188.18" fill="none" stroke="#b0b0b0" stroke-width="1.1"/>
<line x1="328.60" y1="186.40" x2="338.40" y2="188.00" stroke="#aaa" stroke-width="0.8" stroke-dasharray="2.0,1.5"/>
<line x1="328.60" y1="186.40" x2="339.50" y2="193.00" stroke="#aaa" stroke-width="0.8" stroke-dasharray="2.0,1.5"/>
<defs><linearGradient id="g1" gradientUnits="userSpaceOnUse" x1="0" y1="171" x2="0" y2="189"><stop offset="0" stop-color="#85858c"/><stop offset="1" stop-color="#4c4c54"/></linearGradient><linearGradient id="g2" gradientUnits="userSpaceOnUse" x1="0" y1="259" x2="0" y2="277"><stop offset="0" stop-color="#85858c"/><stop offset="1" stop-color="#4c4c54"/></linearGradient></defs>
<polyline points="354.40,175.90 354.65,175.23 354.90,174.62 355.14,174.05 355.39,173.53 355.64,173.08 355.89,172.69 356.14,172.37 356.38,172.11 356.63,171.93 356.88,171.83 357.13,171.80 357.38,171.85 357.62,171.97 357.87,172.16 358.12,172.43 358.37,172.77 358.62,173.17 358.86,173.64 359.11,174.17 359.36,174.75 359.61,175.38 359.86,176.05 360.10,176.76 360.35,177.50 360.60,178.26 360.85,179.04 361.10,179.83 361.34,180.63 361.59,181.41 361.84,182.19 362.09,182.94 362.34,183.68 362.58,184.37 362.83,185.03 363.08,185.65 363.33,186.21 363.58,186.72 363.82,187.17 364.07,187.55 364.32,187.86 364.57,188.11 364.82,188.28 365.06,188.38 365.31,188.40 365.56,188.34 365.81,188.21 366.06,188.01 366.30,187.74 366.55,187.39 366.80,186.98 367.05,186.51 367.30,185.97 367.54,185.39 367.79,184.75 368.04,184.08 368.29,183.36 368.54,182.62 368.78,181.86 369.03,181.07 369.28,180.28 369.53,179.49 369.78,178.70 370.02,177.93 370.27,177.18 370.52,176.45 370.77,175.76 371.02,175.10 371.26,174.49 371.51,173.93 371.76,173.43 372.01,172.99 372.26,172.62 372.50,172.31 372.75,172.07 373.00,171.91 373.25,171.82 373.50,171.80 373.74,171.87 373.99,172.00 374.24,172.21 374.49,172.50 374.74,172.85 374.98,173.27 375.23,173.75 375.48,174.29 375.73,174.88 375.98,175.52 376.22,176.20 376.47,176.91 376.72,177.66 376.97,178.43 377.22,179.21 377.46,180.00 377.71,180.79 377.96,181.58 378.21,182.35 378.46,183.10 378.70,183.83 378.95,184.52 379.20,185.17 379.45,185.77 379.70,186.32 379.94,186.82 380.19,187.25 380.44,187.62 380.69,187.92 380.94,188.15 381.18,188.31 381.43,188.39 381.68,188.39 381.93,188.32 382.18,188.18 382.42,187.96 382.67,187.67 382.92,187.31 383.17,186.89 383.42,186.40 383.66,185.85 383.91,185.26 384.16,184.61 384.41,183.93 384.66,183.21 384.90,182.46 385.15,181.69 385.40,180.91 385.65,180.12 385.90,179.33 386.14,178.54 386.39,177.77 386.64,177.02 386.89,176.30 387.14,175.61 387.38,174.97 387.63,174.37 387.88,173.82 388.13,173.33 388.38,172.91 388.62,172.54 388.87,172.25 389.12,172.03 389.37,171.88 389.62,171.81 389.86,171.81 390.11,171.89 390.36,172.04 390.61,172.27 390.86,172.57 391.10,172.93 391.35,173.36 391.60,173.86 391.85,174.41 392.10,175.01 392.34,175.66 392.59,176.34 392.84,177.07 393.09,177.82 393.34,178.59 393.58,179.37 393.83,180.17 394.08,180.96 394.33,181.74 394.58,182.51 394.82,183.26 395.07,183.97 395.32,184.66 395.57,185.30 395.82,185.89 396.06,186.43 396.31,186.91 396.56,187.33 396.81,187.69 397.06,187.98 397.30,188.19 397.55,188.33 397.80,188.40 398.05,188.38 398.30,188.30 398.54,188.14 398.79,187.90 399.04,187.60 399.29,187.23 399.54,186.79 399.78,186.29 400.03,185.73 400.28,185.13 400.53,184.47 400.78,183.78 401.02,183.05 401.27,182.30 401.52,181.53 401.77,180.74 402.02,179.95 402.26,179.16 402.51,178.38 402.76,177.61 403.01,176.87 403.26,176.15 403.50,175.47 403.75,174.84 404.00,174.25" fill="none" stroke="url(#g1)" stroke-width="2.5"/>
<line x1="397.90" y1="127.60" x2="355.00" y2="174.00" stroke="#aaa" stroke-width="0.8" stroke-dasharray="2.0,1.5"/>
<line x1="397.90" y1="127.60" x2="404.20" y2="172.00" stroke="#aaa" stroke-width="0.8" stroke-dasharray="2.0,1.5"/>
<line x1="356.00" y1="188.80" x2="402.00" y2="188.80" stroke="#f0f0f0" stroke-width="1"/>
<rect x="440.40" y="120.70" width="99.20" height="84.90" fill="none" stroke="#7a7a7a" stroke-width="0.9"/>
<line x1="440.40" y1="205.60" x2="440.40" y2="204.00" stroke="#7a7a7a" stroke-width="0.6"/>
<text x="440.40" y="212.60" font-size="5.7" font-weight="bold" text-anchor="middle" fill="#222" stroke="#222" stroke-width="0.18">0</text>
<line x1="460.24" y1="205.60" x2="460.24" y2="204.00" stroke="#7a7a7a" stroke-width="0.6"/>
<text x="460.24" y="212.60" font-size="5.7" font-weight="bold" text-anchor="middle" fill="#222" stroke="#222" stroke-width="0.18">2</text>
<line x1="480.08" y1="205.60" x2="480.08" y2="204.00" stroke="#7a7a7a" stroke-width="0.6"/>
<text x="480.08" y="212.60" font-size="5.7" font-weight="bold" text-anchor="middle" fill="#222" stroke="#222" stroke-width="0.18">4</text>
<line x1="499.92" y1="205.60" x2="499.92" y2="204.00" stroke="#7a7a7a" stroke-width="0.6"/>
<text x="499.92" y="212.60" font-size="5.7" font-weight="bold" text-anchor="middle" fill="#222" stroke="#222" stroke-width="0.18">6</text>
<line x1="519.76" y1="205.60" x2="519.76" y2="204.00" stroke="#7a7a7a" stroke-width="0.6"/>
<text x="519.76" y="212.60" font-size="5.7" font-weight="bold" text-anchor="middle" fill="#222" stroke="#222" stroke-width="0.18">8</text>
<line x1="539.60" y1="205.60" x2="539.60" y2="204.00" stroke="#7a7a7a" stroke-width="0.6"/>
<text x="539.60" y="212.60" font-size="5.7" font-weight="bold" text-anchor="middle" fill="#222" stroke="#222" stroke-width="0.18">10</text>
<line x1="450.32" y1="205.60" x2="450.32" y2="204.70" stroke="#999" stroke-width="0.5"/>
<line x1="470.16" y1="205.60" x2="470.16" y2="204.70" stroke="#999" stroke-width="0.5"/>
<line x1="490.00" y1="205.60" x2="490.00" y2="204.70" stroke="#999" stroke-width="0.5"/>
<line x1="509.84" y1="205.60" x2="509.84" y2="204.70" stroke="#999" stroke-width="0.5"/>
<line x1="529.68" y1="205.60" x2="529.68" y2="204.70" stroke="#999" stroke-width="0.5"/>
<line x1="440.40" y1="205.60" x2="442.00" y2="205.60" stroke="#7a7a7a" stroke-width="0.6"/>
<text x="438.80" y="207.65" font-size="5.7" font-weight="bold" text-anchor="end" fill="#222" stroke="#222" stroke-width="0.18">0</text>
<line x1="440.40" y1="188.62" x2="442.00" y2="188.62" stroke="#7a7a7a" stroke-width="0.6"/>
<text x="438.80" y="190.67" font-size="5.7" font-weight="bold" text-anchor="end" fill="#222" stroke="#222" stroke-width="0.18">4</text>
<line x1="440.40" y1="171.64" x2="442.00" y2="171.64" stroke="#7a7a7a" stroke-width="0.6"/>
<text x="438.80" y="173.69" font-size="5.7" font-weight="bold" text-anchor="end" fill="#222" stroke="#222" stroke-width="0.18">8</text>
<line x1="440.40" y1="154.66" x2="442.00" y2="154.66" stroke="#7a7a7a" stroke-width="0.6"/>
<text x="438.80" y="156.71" font-size="5.7" font-weight="bold" text-anchor="end" fill="#222" stroke="#222" stroke-width="0.18">12</text>
<line x1="440.40" y1="137.68" x2="442.00" y2="137.68" stroke="#7a7a7a" stroke-width="0.6"/>
<text x="438.80" y="139.73" font-size="5.7" font-weight="bold" text-anchor="end" fill="#222" stroke="#222" stroke-width="0.18">16</text>
<line x1="440.40" y1="120.70" x2="442.00" y2="120.70" stroke="#7a7a7a" stroke-width="0.6"/>
<text x="438.80" y="122.75" font-size="5.7" font-weight="bold" text-anchor="end" fill="#222" stroke="#222" stroke-width="0.18">20</text>
<text x="490.00" y="220.20" font-size="5.3" font-weight="bold" text-anchor="middle" fill="#222" stroke="#222" stroke-width="0.18">length (cm)</text>
<text x="0" y="0" font-size="6.0" font-weight="bold" text-anchor="middle" fill="#222" stroke="#222" stroke-width="0.12" transform="translate(428.50,163.15) rotate(-90)">thrust per centimeter (mN/cm)</text>
<path d="M440.40,205.60 L450.32,196.26 L460.24,186.71 L470.16,177.58 L480.08,169.52 L490.00,161.88 L499.92,154.66 L509.84,147.44 L519.76,140.65 L529.68,133.86 L533.65,131.31 L533.65,205.60 Z" fill="#72f8f8" stroke="none"/>
<polyline points="440.40,205.60 450.32,196.26 460.24,186.71 470.16,177.58 480.08,169.52 490.00,161.88 499.92,154.66 509.84,147.44 519.76,140.65 529.68,133.86 533.65,131.31" fill="none" stroke="#2a4a4a" stroke-width="0.6"/>
<line x1="533.65" y1="131.31" x2="533.65" y2="205.60" stroke="#2a4a4a" stroke-width="0.6"/>
<rect x="453.5" y="129.2" width="31.69999999999999" height="8.600000000000023" fill="#fff" stroke="#777" stroke-width="0.8" rx="0.6"/>
<rect x="454.0" y="129.7" width="12.4" height="7.600000000000023" fill="#72f8f8"/>
<text x="467.70" y="135.40" font-size="5.3" font-weight="bold" text-anchor="start" fill="#222" stroke="#222" stroke-width="0.18">thrust</text>
<polyline points="444.50,144.60 455.30,156.00 463.20,146.70 470.00,154.40 475.60,148.20 481.80,153.30 486.00,149.20 489.00,152.90 491.80,149.80 494.20,152.70 495.90,150.20 497.40,152.30 498.80,150.60" fill="none" stroke="#2e2e2e" stroke-width="2.4" stroke-linejoin="round"/>
<line x1="477.50" y1="162.50" x2="508.00" y2="187.50" stroke="#858585" stroke-width="1.0" stroke-dasharray="2.0,1.5"/>
<rect x="440.40" y="120.70" width="99.20" height="84.90" fill="none" stroke="#7a7a7a" stroke-width="0.9"/>
<rect x="309.80" y="231.60" width="96.60" height="84.70" fill="none" stroke="#7a7a7a" stroke-width="0.9"/>
<line x1="309.80" y1="316.30" x2="309.80" y2="314.70" stroke="#7a7a7a" stroke-width="0.6"/>
<text x="309.80" y="323.30" font-size="5.7" font-weight="bold" text-anchor="middle" fill="#222" stroke="#222" stroke-width="0.18">0</text>
<line x1="327.36" y1="316.30" x2="327.36" y2="314.70" stroke="#7a7a7a" stroke-width="0.6"/>
<text x="327.36" y="323.30" font-size="5.7" font-weight="bold" text-anchor="middle" fill="#222" stroke="#222" stroke-width="0.18">1</text>
<line x1="344.93" y1="316.30" x2="344.93" y2="314.70" stroke="#7a7a7a" stroke-width="0.6"/>
<text x="344.93" y="323.30" font-size="5.7" font-weight="bold" text-anchor="middle" fill="#222" stroke="#222" stroke-width="0.18">2</text>
<line x1="362.49" y1="316.30" x2="362.49" y2="314.70" stroke="#7a7a7a" stroke-width="0.6"/>
<text x="362.49" y="323.30" font-size="5.7" font-weight="bold" text-anchor="middle" fill="#222" stroke="#222" stroke-width="0.18">3</text>
<line x1="380.05" y1="316.30" x2="380.05" y2="314.70" stroke="#7a7a7a" stroke-width="0.6"/>
<text x="380.05" y="323.30" font-size="5.7" font-weight="bold" text-anchor="middle" fill="#222" stroke="#222" stroke-width="0.18">4</text>
<line x1="397.62" y1="316.30" x2="397.62" y2="314.70" stroke="#7a7a7a" stroke-width="0.6"/>
<text x="397.62" y="323.30" font-size="5.7" font-weight="bold" text-anchor="middle" fill="#222" stroke="#222" stroke-width="0.18">5</text>
<line x1="318.58" y1="316.30" x2="318.58" y2="315.40" stroke="#999" stroke-width="0.5"/>
<line x1="336.15" y1="316.30" x2="336.15" y2="315.40" stroke="#999" stroke-width="0.5"/>
<line x1="353.71" y1="316.30" x2="353.71" y2="315.40" stroke="#999" stroke-width="0.5"/>
<line x1="371.27" y1="316.30" x2="371.27" y2="315.40" stroke="#999" stroke-width="0.5"/>
<line x1="388.84" y1="316.30" x2="388.84" y2="315.40" stroke="#999" stroke-width="0.5"/>
<line x1="309.80" y1="316.30" x2="311.40" y2="316.30" stroke="#7a7a7a" stroke-width="0.6"/>
<text x="308.20" y="318.35" font-size="5.7" font-weight="bold" text-anchor="end" fill="#222" stroke="#222" stroke-width="0.18">0</text>
<line x1="309.80" y1="299.36" x2="311.40" y2="299.36" stroke="#7a7a7a" stroke-width="0.6"/>
<text x="308.20" y="301.41" font-size="5.7" font-weight="bold" text-anchor="end" fill="#222" stroke="#222" stroke-width="0.18">0.8</text>
<line x1="309.80" y1="282.42" x2="311.40" y2="282.42" stroke="#7a7a7a" stroke-width="0.6"/>
<text x="308.20" y="284.47" font-size="5.7" font-weight="bold" text-anchor="end" fill="#222" stroke="#222" stroke-width="0.18">1.6</text>
<line x1="309.80" y1="265.48" x2="311.40" y2="265.48" stroke="#7a7a7a" stroke-width="0.6"/>
<text x="308.20" y="267.53" font-size="5.7" font-weight="bold" text-anchor="end" fill="#222" stroke="#222" stroke-width="0.18">2.4</text>
<line x1="309.80" y1="248.54" x2="311.40" y2="248.54" stroke="#7a7a7a" stroke-width="0.6"/>
<text x="308.20" y="250.59" font-size="5.7" font-weight="bold" text-anchor="end" fill="#222" stroke="#222" stroke-width="0.18">3.2</text>
<line x1="309.80" y1="231.60" x2="311.40" y2="231.60" stroke="#7a7a7a" stroke-width="0.6"/>
<text x="308.20" y="233.65" font-size="5.7" font-weight="bold" text-anchor="end" fill="#222" stroke="#222" stroke-width="0.18">4.0</text>
<line x1="309.80" y1="307.83" x2="310.70" y2="307.83" stroke="#999" stroke-width="0.5"/>
<line x1="309.80" y1="290.89" x2="310.70" y2="290.89" stroke="#999" stroke-width="0.5"/>
<line x1="309.80" y1="273.95" x2="310.70" y2="273.95" stroke="#999" stroke-width="0.5"/>
<line x1="309.80" y1="257.01" x2="310.70" y2="257.01" stroke="#999" stroke-width="0.5"/>
<line x1="309.80" y1="240.07" x2="310.70" y2="240.07" stroke="#999" stroke-width="0.5"/>
<text x="358.10" y="330.90" font-size="5.3" font-weight="bold" text-anchor="middle" fill="#222" stroke="#222" stroke-width="0.18">helix radius</text>
<text x="0" y="0" font-size="6.0" font-weight="bold" text-anchor="middle" fill="#222" stroke="#222" stroke-width="0.12" transform="translate(295.30,273.95) rotate(-90)">torque (mN.m)</text>
<polyline points="309.80,316.30 318.58,314.61 327.36,311.64 336.15,307.83 344.93,303.17 353.71,296.18 362.49,287.93 371.27,278.19 380.05,266.54 388.84,254.89 397.62,242.19" fill="none" stroke="#c98682" stroke-width="0.8"/>
<rect x="319.2" y="239.4" width="31.200000000000045" height="8.0" fill="#fff" stroke="#777" stroke-width="0.8" rx="0.6"/>
<line x1="319.90" y1="243.40" x2="331.80" y2="243.40" stroke="#dca0a0" stroke-width="0.85"/>
<svg x="319.2" y="239.4" width="30.800000000000047" height="8.0" overflow="hidden"><text x="14.20" y="5.90" font-size="5.3" font-weight="bold" text-anchor="start" fill="#222" stroke="#222" stroke-width="0.18">torque</text></svg>
<polyline points="320.20,264.67 320.45,263.96 320.69,263.28 320.94,262.65 321.19,262.07 321.43,261.54 321.68,261.07 321.93,260.66 322.17,260.31 322.42,260.04 322.66,259.84 322.91,259.71 323.16,259.65 323.40,259.67 323.65,259.77 323.90,259.94 324.14,260.18 324.39,260.49 324.64,260.87 324.88,261.32 325.13,261.82 325.38,262.38 325.62,262.99 325.87,263.65 326.12,264.34 326.36,265.07 326.61,265.82 326.86,266.59 327.10,267.38 327.35,268.17 327.59,268.96 327.84,269.74 328.09,270.51 328.33,271.25 328.58,271.97 328.83,272.64 329.07,273.28 329.32,273.87 329.57,274.41 329.81,274.88 330.06,275.30 330.31,275.65 330.55,275.93 330.80,276.15 331.05,276.28 331.29,276.35 331.54,276.33 331.79,276.25 332.03,276.09 332.28,275.85 332.52,275.55 332.77,275.17 333.02,274.74 333.26,274.24 333.51,273.69 333.76,273.08 334.00,272.43 334.25,271.74 334.50,271.02 334.74,270.26 334.99,269.49 335.24,268.71 335.48,267.92 335.73,267.13 335.98,266.34 336.22,265.58 336.47,264.83 336.72,264.11 336.96,263.43 337.21,262.79 337.45,262.19 337.70,261.65 337.95,261.17 338.19,260.74 338.44,260.38 338.69,260.09 338.93,259.87 339.18,259.73 339.43,259.66 339.67,259.66 339.92,259.74 340.17,259.89 340.41,260.12 340.66,260.42 340.91,260.78 341.15,261.21 341.40,261.70 341.65,262.25 341.89,262.85 342.14,263.49 342.38,264.18 342.63,264.90 342.88,265.65 343.12,266.42 343.37,267.20 343.62,267.99 343.86,268.78 344.11,269.57 344.36,270.34 344.60,271.09 344.85,271.81 345.10,272.50 345.34,273.14 345.59,273.74 345.84,274.29 346.08,274.78 346.33,275.21 346.58,275.58 346.82,275.88 347.07,276.10 347.31,276.26 347.56,276.34 347.81,276.34 348.05,276.27 348.30,276.13 348.55,275.91 348.79,275.62 349.04,275.26 349.29,274.84 349.53,274.36 349.78,273.82 350.03,273.22 350.27,272.58 350.52,271.90 350.77,271.18 351.01,270.44 351.26,269.67 351.51,268.89 351.75,268.10 352.00,267.30 352.25,266.52 352.49,265.75 352.74,265.00 352.98,264.27 353.23,263.58 353.48,262.93 353.72,262.32 353.97,261.77 354.22,261.27 354.46,260.83 354.71,260.46 354.96,260.15 355.20,259.92 355.45,259.76 355.70,259.67 355.94,259.65 356.19,259.72 356.44,259.85 356.68,260.06 356.93,260.34 357.18,260.69 357.42,261.11 357.67,261.59 357.91,262.12 358.16,262.71 358.41,263.34 358.65,264.02 358.90,264.74 359.15,265.48 359.39,266.24 359.64,267.03 359.89,267.82 360.13,268.61 360.38,269.39 360.63,270.17 360.87,270.92 361.12,271.65 361.37,272.34 361.61,273.00 361.86,273.61 362.11,274.17 362.35,274.68 362.60,275.12 362.84,275.50 363.09,275.82 363.34,276.06 363.58,276.23 363.83,276.33 364.08,276.35 364.32,276.29 364.57,276.17 364.82,275.97 365.06,275.69 365.31,275.35 365.56,274.94 365.80,274.47 366.05,273.94 366.30,273.36 366.54,272.73 366.79,272.06 367.03,271.35 367.28,270.61 367.53,269.84 367.77,269.06 368.02,268.27 368.27,267.48 368.51,266.69 368.76,265.92 369.01,265.16 369.25,264.43 369.50,263.73" fill="none" stroke="url(#g2)" stroke-width="2.5"/>
<line x1="322.00" y1="276.80" x2="368.00" y2="276.80" stroke="#f0f0f0" stroke-width="1"/>
<line x1="328.50" y1="254.20" x2="398.10" y2="242.20" stroke="#aaa" stroke-width="0.8" stroke-dasharray="2.0,1.5"/>
<line x1="370.50" y1="261.30" x2="398.10" y2="242.20" stroke="#aaa" stroke-width="0.8" stroke-dasharray="2.0,1.5"/>
<polyline points="373.00,295.33 373.14,294.98 373.28,294.66 373.42,294.37 373.56,294.12 373.70,293.90 373.85,293.72 373.99,293.58 374.13,293.48 374.27,293.42 374.41,293.40 374.55,293.42 374.69,293.49 374.83,293.59 374.97,293.74 375.12,293.92 375.26,294.15 375.40,294.40 375.54,294.69 375.68,295.02 375.82,295.37 375.96,295.74 376.10,296.14 376.24,296.56 376.38,297.00 376.52,297.44 376.67,297.90 376.81,298.36 376.95,298.82 377.09,299.28 377.23,299.73 377.37,300.17 377.51,300.60 377.65,301.01 377.79,301.40 377.94,301.77 378.08,302.11 378.22,302.42 378.36,302.70 378.50,302.94 378.64,303.15 378.78,303.32 378.92,303.45 379.06,303.54 379.20,303.59 379.34,303.60 379.49,303.56 379.63,303.49 379.77,303.37 379.91,303.21 380.05,303.02 380.19,302.79 380.33,302.52 380.47,302.22 380.61,301.89 380.75,301.53 380.90,301.15 381.04,300.74 381.18,300.32 381.32,299.88 381.46,299.43 381.60,298.97 381.74,298.51 381.88,298.05 382.02,297.60 382.17,297.15 382.31,296.71 382.45,296.28 382.59,295.88 382.73,295.49 382.87,295.13 383.01,294.80 383.15,294.50 383.29,294.23 383.43,293.99 383.57,293.80 383.72,293.64 383.86,293.52 384.00,293.44 384.14,293.40 384.28,293.41 384.42,293.45 384.56,293.54 384.70,293.67 384.84,293.84 384.99,294.04 385.13,294.28 385.27,294.56 385.41,294.87 385.55,295.21 385.69,295.57 385.83,295.96 385.97,296.37 386.11,296.80 386.25,297.24 386.39,297.69 386.54,298.15 386.68,298.61 386.82,299.07 386.96,299.53 387.10,299.98 387.24,300.41 387.38,300.83 387.52,301.23 387.66,301.61 387.81,301.96 387.95,302.29 388.09,302.58 388.23,302.84 388.37,303.06 388.51,303.25 388.65,303.40 388.79,303.51 388.93,303.57 389.07,303.60 389.21,303.58 389.36,303.53 389.50,303.43 389.64,303.29 389.78,303.11 389.92,302.89 390.06,302.64 390.20,302.36 390.34,302.04 390.48,301.69 390.62,301.32 390.77,300.92 390.91,300.51 391.05,300.08 391.19,299.63 391.33,299.18 391.47,298.72 391.61,298.26 391.75,297.80 391.89,297.34 392.03,296.90 392.18,296.47 392.32,296.06 392.46,295.66 392.60,295.29 392.74,294.94 392.88,294.63 393.02,294.34 393.16,294.09 393.30,293.88 393.44,293.70 393.59,293.57 393.73,293.47 393.87,293.41 394.01,293.40 394.15,293.43 394.29,293.50 394.43,293.61 394.57,293.76 394.71,293.95 394.86,294.17 395.00,294.43 395.14,294.73 395.28,295.05 395.42,295.41 395.56,295.79 395.70,296.19 395.84,296.61 395.98,297.05 396.12,297.49 396.26,297.95 396.41,298.41 396.55,298.87 396.69,299.33 396.83,299.78 396.97,300.22 397.11,300.65 397.25,301.06 397.39,301.44 397.53,301.81 397.68,302.15 397.82,302.45 397.96,302.73 398.10,302.97 398.24,303.17 398.38,303.34 398.52,303.46 398.66,303.55 398.80,303.59 398.94,303.60 399.08,303.56 399.23,303.48 399.37,303.35 399.51,303.19 399.65,302.99 399.79,302.76 399.93,302.49 400.07,302.18 400.21,301.85 400.35,301.49 400.50,301.10 400.64,300.70 400.78,300.27 400.92,299.83 401.06,299.38 401.20,298.92" fill="none" stroke="#6e6e72" stroke-width="1.6"/>
<line x1="362.80" y1="287.80" x2="373.00" y2="290.60" stroke="#999" stroke-width="0.8" stroke-dasharray="2.0,1.5"/>
<line x1="362.80" y1="287.80" x2="370.70" y2="302.50" stroke="#999" stroke-width="0.8" stroke-dasharray="2.0,1.5"/>
<polyline points="316.40,299.40 316.46,299.41 316.52,299.43 316.58,299.47 316.64,299.53 316.70,299.60 316.76,299.69 316.82,299.79 316.88,299.91 316.94,300.04 317.00,300.17 317.06,300.32 317.12,300.48 317.18,300.65 317.24,300.82 317.30,300.99 317.36,301.17 317.42,301.36 317.48,301.54 317.54,301.72 317.60,301.90 317.66,302.07 317.72,302.24 317.78,302.40 317.84,302.56 317.90,302.70 317.96,302.83 318.02,302.95 318.08,303.06 318.14,303.16 318.20,303.24 318.26,303.30 318.32,303.35 318.38,303.38 318.44,303.40 318.50,303.40 318.56,303.38 318.62,303.35 318.68,303.30 318.74,303.23 318.80,303.15 318.86,303.06 318.92,302.95 318.98,302.83 319.04,302.69 319.10,302.55 319.16,302.40 319.22,302.23 319.28,302.07 319.34,301.89 319.40,301.71 319.46,301.53 319.52,301.35 319.58,301.17 319.64,300.99 319.70,300.81 319.76,300.64 319.82,300.48 319.88,300.32 319.94,300.17 320.00,300.03 320.06,299.90 320.12,299.79 320.18,299.69 320.24,299.60 320.30,299.53 320.36,299.47 320.42,299.43 320.48,299.41 320.54,299.40 320.60,299.41 320.66,299.43 320.72,299.48 320.78,299.53 320.84,299.61 320.90,299.69 320.96,299.80 321.02,299.91 321.08,300.04 321.14,300.18 321.20,300.33 321.26,300.49 321.32,300.65 321.38,300.82 321.44,301.00 321.50,301.18 321.56,301.36 321.62,301.54 321.68,301.73 321.74,301.90 321.80,302.08 321.86,302.25 321.92,302.41 321.98,302.56 322.04,302.70 322.10,302.84 322.16,302.96 322.22,303.06 322.28,303.16 322.34,303.24 322.40,303.30 322.46,303.35 322.52,303.38 322.58,303.40 322.64,303.40 322.70,303.38 322.76,303.35 322.82,303.30 322.88,303.23 322.94,303.15 323.00,303.05 323.06,302.95 323.12,302.82 323.18,302.69 323.24,302.54 323.30,302.39 323.36,302.23 323.42,302.06 323.48,301.89 323.54,301.71 323.60,301.53 323.66,301.34 323.72,301.16 323.78,300.98 323.84,300.81 323.90,300.63 323.96,300.47 324.02,300.31 324.08,300.16 324.14,300.03 324.20,299.90 324.26,299.79 324.32,299.68 324.38,299.60 324.44,299.53 324.50,299.47 324.56,299.43 324.62,299.41 324.68,299.40 324.74,299.41 324.80,299.44 324.86,299.48 324.92,299.54 324.98,299.61 325.04,299.70 325.10,299.80 325.16,299.92 325.22,300.04 325.28,300.18 325.34,300.33 325.40,300.49 325.46,300.66 325.52,300.83 325.58,301.01 325.64,301.19 325.70,301.37 325.76,301.55 325.82,301.73 325.88,301.91 325.94,302.08 326.00,302.25 326.06,302.41 326.12,302.57 326.18,302.71 326.24,302.84 326.30,302.96 326.36,303.07 326.42,303.16 326.48,303.24 326.54,303.30 326.60,303.35 326.66,303.38 326.72,303.40 326.78,303.40 326.84,303.38 326.90,303.34 326.96,303.29 327.02,303.23 327.08,303.15 327.14,303.05 327.20,302.94 327.26,302.82 327.32,302.68 327.38,302.54 327.44,302.39 327.50,302.22 327.56,302.05 327.62,301.88 327.68,301.70 327.74,301.52 327.80,301.34 327.86,301.16 327.92,300.98 327.98,300.80 328.04,300.63 328.10,300.46 328.16,300.31 328.22,300.16 328.28,300.02 328.34,299.90 328.40,299.78" fill="none" stroke="#b0b0b0" stroke-width="1.1"/>
<line x1="316.00" y1="305.80" x2="327.10" y2="311.20" stroke="#aaa" stroke-width="0.8" stroke-dasharray="2.0,1.5"/>
<line x1="328.40" y1="305.80" x2="327.10" y2="311.20" stroke="#aaa" stroke-width="0.8" stroke-dasharray="2.0,1.5"/>
<rect x="442.30" y="231.20" width="97.60" height="85.40" fill="none" stroke="#7a7a7a" stroke-width="0.9"/>
<line x1="442.30" y1="316.60" x2="442.30" y2="315.00" stroke="#7a7a7a" stroke-width="0.6"/>
<text x="442.30" y="323.60" font-size="5.7" font-weight="bold" text-anchor="middle" fill="#222" stroke="#222" stroke-width="0.18">0</text>
<line x1="461.82" y1="316.60" x2="461.82" y2="315.00" stroke="#7a7a7a" stroke-width="0.6"/>
<text x="461.82" y="323.60" font-size="5.7" font-weight="bold" text-anchor="middle" fill="#222" stroke="#222" stroke-width="0.18">2</text>
<line x1="481.34" y1="316.60" x2="481.34" y2="315.00" stroke="#7a7a7a" stroke-width="0.6"/>
<text x="481.34" y="323.60" font-size="5.7" font-weight="bold" text-anchor="middle" fill="#222" stroke="#222" stroke-width="0.18">4</text>
<line x1="500.86" y1="316.60" x2="500.86" y2="315.00" stroke="#7a7a7a" stroke-width="0.6"/>
<text x="500.86" y="323.60" font-size="5.7" font-weight="bold" text-anchor="middle" fill="#222" stroke="#222" stroke-width="0.18">6</text>
<line x1="520.38" y1="316.60" x2="520.38" y2="315.00" stroke="#7a7a7a" stroke-width="0.6"/>
<text x="520.38" y="323.60" font-size="5.7" font-weight="bold" text-anchor="middle" fill="#222" stroke="#222" stroke-width="0.18">8</text>
<line x1="539.90" y1="316.60" x2="539.90" y2="315.00" stroke="#7a7a7a" stroke-width="0.6"/>
<text x="539.90" y="323.60" font-size="5.7" font-weight="bold" text-anchor="middle" fill="#222" stroke="#222" stroke-width="0.18">10</text>
<line x1="452.06" y1="316.60" x2="452.06" y2="315.70" stroke="#999" stroke-width="0.5"/>
<line x1="471.58" y1="316.60" x2="471.58" y2="315.70" stroke="#999" stroke-width="0.5"/>
<line x1="491.10" y1="316.60" x2="491.10" y2="315.70" stroke="#999" stroke-width="0.5"/>
<line x1="510.62" y1="316.60" x2="510.62" y2="315.70" stroke="#999" stroke-width="0.5"/>
<line x1="530.14" y1="316.60" x2="530.14" y2="315.70" stroke="#999" stroke-width="0.5"/>
<line x1="442.30" y1="316.60" x2="443.90" y2="316.60" stroke="#7a7a7a" stroke-width="0.6"/>
<text x="440.70" y="318.65" font-size="5.7" font-weight="bold" text-anchor="end" fill="#222" stroke="#222" stroke-width="0.18">0.0</text>
<line x1="442.30" y1="295.25" x2="443.90" y2="295.25" stroke="#7a7a7a" stroke-width="0.6"/>
<text x="440.70" y="297.30" font-size="5.7" font-weight="bold" text-anchor="end" fill="#222" stroke="#222" stroke-width="0.18">0.1</text>
<line x1="442.30" y1="273.90" x2="443.90" y2="273.90" stroke="#7a7a7a" stroke-width="0.6"/>
<text x="440.70" y="275.95" font-size="5.7" font-weight="bold" text-anchor="end" fill="#222" stroke="#222" stroke-width="0.18">0.2</text>
<line x1="442.30" y1="252.55" x2="443.90" y2="252.55" stroke="#7a7a7a" stroke-width="0.6"/>
<text x="440.70" y="254.60" font-size="5.7" font-weight="bold" text-anchor="end" fill="#222" stroke="#222" stroke-width="0.18">0.3</text>
<line x1="442.30" y1="231.20" x2="443.90" y2="231.20" stroke="#7a7a7a" stroke-width="0.6"/>
<text x="440.70" y="233.25" font-size="5.7" font-weight="bold" text-anchor="end" fill="#222" stroke="#222" stroke-width="0.18">0.4</text>
<text x="491.10" y="331.20" font-size="5.3" font-weight="bold" text-anchor="middle" fill="#222" stroke="#222" stroke-width="0.18">length (cm)</text>
<text x="0" y="0" font-size="6.0" font-weight="bold" text-anchor="middle" fill="#222" stroke="#222" stroke-width="0.12" transform="translate(430.40,273.90) rotate(-90)">torque per centimeter (mN/cm)</text>
<path d="M442.30,316.60 L452.06,315.11 L461.82,312.33 L471.58,308.49 L481.34,302.30 L491.10,294.18 L500.86,283.51 L510.62,271.76 L520.38,259.38 L530.14,245.08 L534.04,238.67 L534.04,316.60 Z" fill="#68fc68" stroke="none"/>
<polyline points="442.30,316.60 452.06,315.11 461.82,312.33 471.58,308.49 481.34,302.30 491.10,294.18 500.86,283.51 510.62,271.76 520.38,259.38 530.14,245.08 534.04,238.67" fill="none" stroke="#2a4a4a" stroke-width="0.6"/>
<line x1="534.04" y1="238.67" x2="534.04" y2="316.60" stroke="#2a4a4a" stroke-width="0.6"/>
<rect x="454.7" y="240.2" width="31.900000000000034" height="8.200000000000017" fill="#fff" stroke="#777" stroke-width="0.8" rx="0.6"/>
<rect x="455.2" y="240.7" width="12.4" height="7.200000000000017" fill="#68fc68"/>
<text x="468.90" y="246.20" font-size="5.3" font-weight="bold" text-anchor="start" fill="#222" stroke="#222" stroke-width="0.18">torque</text>
<polyline points="448.40,263.60 459.60,275.20 467.60,267.10 474.60,274.10 481.60,268.20 487.50,273.10 492.00,268.90 495.50,272.60 498.50,269.60 501.00,272.00 503.60,270.40" fill="none" stroke="#2e2e2e" stroke-width="2.5" stroke-linejoin="round"/>
<line x1="477.40" y1="283.00" x2="508.60" y2="308.40" stroke="#858585" stroke-width="1.0" stroke-dasharray="2.0,1.5"/>
<rect x="442.30" y="231.20" width="97.60" height="85.40" fill="none" stroke="#7a7a7a" stroke-width="0.9"/>
</svg>
</body></html>
